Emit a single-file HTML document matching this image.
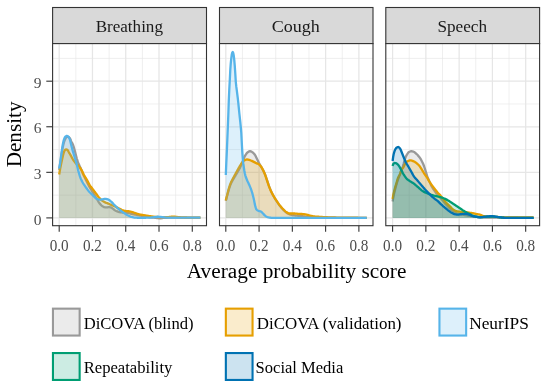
<!DOCTYPE html>
<html lang="en"><head><meta charset="utf-8"><title>Density of average probability score</title>
<style>
html,body{margin:0;padding:0;background:#fff}
body{width:550px;height:390px;overflow:hidden}
svg{display:block}
text{font-family:"Liberation Serif","DejaVu Serif",serif}
.tk text{font-size:16px;fill:#4D4D4D}
.st{font-size:16px;fill:#1A1A1A}
.ti{font-size:20px;fill:#000}
.lg{font-size:16px;fill:#000}
</style></head><body>
<svg width="550" height="390" viewBox="0 0 550 390">
<rect width="550" height="390" fill="#fff"/>
<rect x="52.6" y="7.5" width="153.9" height="36.1" fill="#D9D9D9" stroke="#333" stroke-width="1.1"/>
<rect x="52.6" y="43.6" width="153.9" height="182.1" fill="#fff"/>
<g stroke="#E6E6E6"><line x1="59.2" x2="59.2" y1="43.6" y2="225.7" stroke-width="1.25"/><line x1="75.84" x2="75.84" y1="43.6" y2="225.7" stroke-width="0.65"/><line x1="92.47" x2="92.47" y1="43.6" y2="225.7" stroke-width="1.25"/><line x1="109.11" x2="109.11" y1="43.6" y2="225.7" stroke-width="0.65"/><line x1="125.74" x2="125.74" y1="43.6" y2="225.7" stroke-width="1.25"/><line x1="142.38" x2="142.38" y1="43.6" y2="225.7" stroke-width="0.65"/><line x1="159.01" x2="159.01" y1="43.6" y2="225.7" stroke-width="1.25"/><line x1="175.65" x2="175.65" y1="43.6" y2="225.7" stroke-width="0.65"/><line x1="192.28" x2="192.28" y1="43.6" y2="225.7" stroke-width="1.25"/><line x1="52.6" x2="206.5" y1="217.9" y2="217.9" stroke-width="1.25"/><line x1="52.6" x2="206.5" y1="195.12" y2="195.12" stroke-width="0.65"/><line x1="52.6" x2="206.5" y1="172.33" y2="172.33" stroke-width="1.25"/><line x1="52.6" x2="206.5" y1="149.55" y2="149.55" stroke-width="0.65"/><line x1="52.6" x2="206.5" y1="126.76" y2="126.76" stroke-width="1.25"/><line x1="52.6" x2="206.5" y1="103.98" y2="103.98" stroke-width="0.65"/><line x1="52.6" x2="206.5" y1="81.19" y2="81.19" stroke-width="1.25"/><line x1="52.6" x2="206.5" y1="58.41" y2="58.41" stroke-width="0.65"/></g>
<path d="M59.2 170 L59.7 166.55 L60.2 163.19 L60.7 159.91 L61.2 156.72 L61.7 153.42 L62.2 150.22 L62.7 147.4 L63.2 145.17 L63.7 143.23 L64.2 141.54 L64.7 140.15 L65.2 139.11 L65.7 138.2 L66.2 137.46 L66.7 137.03 L67.2 136.91 L67.7 136.83 L68.2 136.8 L68.7 136.98 L69.2 137.44 L69.7 138 L70.2 138.8 L70.7 139.9 L71.2 141.11 L71.7 142.2 L72.2 143.14 L72.7 144.1 L73.2 145.26 L73.7 146.78 L74.2 148.55 L74.7 150.36 L75.2 152.26 L75.7 154.22 L76.2 156.19 L76.7 158.22 L77.2 160 L77.7 161.43 L78.2 162.68 L78.7 163.85 L79.2 165 L79.7 166.13 L80.2 167.22 L80.7 168.31 L81.2 169.48 L81.7 170.75 L82.2 172.05 L82.7 173.3 L83.2 174.44 L83.7 175.5 L84.2 176.5 L84.7 177.48 L85.2 178.44 L85.7 179.41 L86.2 180.4 L86.7 181.42 L87.2 182.45 L87.7 183.48 L88.2 184.48 L88.7 185.44 L89.2 186.36 L89.7 187.23 L90.2 188.07 L90.7 188.88 L91.2 189.69 L91.7 190.5 L92.2 191.33 L92.7 192.17 L93.2 193.01 L93.7 193.85 L94.2 194.68 L94.7 195.51 L95.2 196.32 L95.7 197.13 L96.2 197.92 L96.7 198.71 L97.2 199.51 L97.7 200.33 L98.2 201.2 L98.7 202.04 L99.2 202.79 L99.7 203.48 L100.2 204.13 L100.7 204.7 L101.2 205.18 L101.7 205.62 L102.2 206 L102.7 206.33 L103.2 206.61 L103.7 206.87 L104.2 207.09 L104.7 207.25 L105.2 207.32 L105.7 207.35 L106.2 207.38 L106.7 207.4 L107.2 207.39 L107.7 207.32 L108.2 207.21 L108.7 207.12 L109.2 207.11 L109.7 207.16 L110.2 207.27 L110.7 207.41 L111.2 207.57 L111.7 207.85 L112.2 208.2 L112.7 208.58 L113.2 208.94 L113.7 209.33 L114.2 209.73 L114.7 210.11 L115.2 210.42 L115.7 210.69 L116.2 210.94 L116.7 211.17 L117.2 211.38 L117.7 211.58 L118.2 211.77 L118.7 211.92 L119.2 212.05 L119.7 212.15 L120.2 212.25 L120.7 212.33 L121.2 212.4 L121.7 212.47 L122.2 212.52 L122.7 212.56 L123.2 212.6 L123.7 212.64 L124.2 212.67 L124.7 212.7 L125.2 212.73 L125.7 212.77 L126.2 212.82 L126.7 212.87 L127.2 212.93 L127.7 213 L128.2 213.07 L128.7 213.15 L129.2 213.24 L129.7 213.35 L130.2 213.49 L130.7 213.64 L131.2 213.79 L131.7 213.93 L132.2 214.05 L132.7 214.15 L133.2 214.25 L133.7 214.35 L134.2 214.45 L134.7 214.54 L135.2 214.64 L135.7 214.74 L136.2 214.84 L136.7 214.94 L137.2 215.03 L137.7 215.13 L138.2 215.23 L138.7 215.33 L139.2 215.42 L139.7 215.52 L140.2 215.61 L140.7 215.71 L141.2 215.8 L141.7 215.9 L142.2 215.99 L142.7 216.08 L143.2 216.18 L143.7 216.27 L144.2 216.36 L144.7 216.44 L145.2 216.53 L145.7 216.62 L146.2 216.7 L146.7 216.79 L147.2 216.88 L147.7 216.96 L148.2 217.04 L148.7 217.12 L149.2 217.19 L149.7 217.26 L150.2 217.32 L150.7 217.38 L151.2 217.44 L151.7 217.49 L152.2 217.54 L152.7 217.58 L153.2 217.63 L153.7 217.68 L154.2 217.72 L154.7 217.77 L155.2 217.82 L155.7 217.88 L156.2 217.94 L156.7 218.01 L157.2 218.07 L157.7 218.14 L158.2 218.19 L158.7 218.24 L159.2 218.28 L159.7 218.3 L160.2 218.3 L160.7 218.28 L161.2 218.24 L161.7 218.18 L162.2 218.11 L162.7 218.04 L163.2 217.97 L163.7 217.91 L164.2 217.85 L164.7 217.81 L165.2 217.79 L165.7 217.78 L166.2 217.76 L166.7 217.74 L167.2 217.73 L167.7 217.71 L168.2 217.7 L168.7 217.69 L169.2 217.67 L169.7 217.66 L170.2 217.65 L170.7 217.64 L171.2 217.63 L171.7 217.62 L172.2 217.62 L172.7 217.61 L173.2 217.61 L173.7 217.6 L174.2 217.6 L174.7 217.6 L175.2 217.6 L175.7 217.6 L176.2 217.6 L176.7 217.6 L177.2 217.6 L177.7 217.6 L178.2 217.6 L178.7 217.6 L179.2 217.6 L179.7 217.6 L180.2 217.6 L180.7 217.6 L181.2 217.6 L181.7 217.6 L182.2 217.6 L182.7 217.6 L183.2 217.6 L183.7 217.6 L184.2 217.6 L184.7 217.61 L185.2 217.61 L185.7 217.61 L186.2 217.61 L186.7 217.61 L187.2 217.61 L187.7 217.61 L188.2 217.61 L188.7 217.62 L189.2 217.62 L189.7 217.62 L190.2 217.62 L190.7 217.62 L191.2 217.63 L191.7 217.63 L192.2 217.63 L192.7 217.63 L193.2 217.64 L193.7 217.64 L194.2 217.64 L194.7 217.65 L195.2 217.65 L195.7 217.65 L196.2 217.66 L196.7 217.66 L197.2 217.67 L197.7 217.67 L198.2 217.68 L198.7 217.68 L199.2 217.69 L199.7 217.69 L200.2 217.7 L200.4 217.7 L200.4 217.9 L59.2 217.9 Z" fill="#999999" fill-opacity="0.2" stroke="none"/>
<path d="M59.2 170 L59.7 166.55 L60.2 163.19 L60.7 159.91 L61.2 156.72 L61.7 153.42 L62.2 150.22 L62.7 147.4 L63.2 145.17 L63.7 143.23 L64.2 141.54 L64.7 140.15 L65.2 139.11 L65.7 138.2 L66.2 137.46 L66.7 137.03 L67.2 136.91 L67.7 136.83 L68.2 136.8 L68.7 136.98 L69.2 137.44 L69.7 138 L70.2 138.8 L70.7 139.9 L71.2 141.11 L71.7 142.2 L72.2 143.14 L72.7 144.1 L73.2 145.26 L73.7 146.78 L74.2 148.55 L74.7 150.36 L75.2 152.26 L75.7 154.22 L76.2 156.19 L76.7 158.22 L77.2 160 L77.7 161.43 L78.2 162.68 L78.7 163.85 L79.2 165 L79.7 166.13 L80.2 167.22 L80.7 168.31 L81.2 169.48 L81.7 170.75 L82.2 172.05 L82.7 173.3 L83.2 174.44 L83.7 175.5 L84.2 176.5 L84.7 177.48 L85.2 178.44 L85.7 179.41 L86.2 180.4 L86.7 181.42 L87.2 182.45 L87.7 183.48 L88.2 184.48 L88.7 185.44 L89.2 186.36 L89.7 187.23 L90.2 188.07 L90.7 188.88 L91.2 189.69 L91.7 190.5 L92.2 191.33 L92.7 192.17 L93.2 193.01 L93.7 193.85 L94.2 194.68 L94.7 195.51 L95.2 196.32 L95.7 197.13 L96.2 197.92 L96.7 198.71 L97.2 199.51 L97.7 200.33 L98.2 201.2 L98.7 202.04 L99.2 202.79 L99.7 203.48 L100.2 204.13 L100.7 204.7 L101.2 205.18 L101.7 205.62 L102.2 206 L102.7 206.33 L103.2 206.61 L103.7 206.87 L104.2 207.09 L104.7 207.25 L105.2 207.32 L105.7 207.35 L106.2 207.38 L106.7 207.4 L107.2 207.39 L107.7 207.32 L108.2 207.21 L108.7 207.12 L109.2 207.11 L109.7 207.16 L110.2 207.27 L110.7 207.41 L111.2 207.57 L111.7 207.85 L112.2 208.2 L112.7 208.58 L113.2 208.94 L113.7 209.33 L114.2 209.73 L114.7 210.11 L115.2 210.42 L115.7 210.69 L116.2 210.94 L116.7 211.17 L117.2 211.38 L117.7 211.58 L118.2 211.77 L118.7 211.92 L119.2 212.05 L119.7 212.15 L120.2 212.25 L120.7 212.33 L121.2 212.4 L121.7 212.47 L122.2 212.52 L122.7 212.56 L123.2 212.6 L123.7 212.64 L124.2 212.67 L124.7 212.7 L125.2 212.73 L125.7 212.77 L126.2 212.82 L126.7 212.87 L127.2 212.93 L127.7 213 L128.2 213.07 L128.7 213.15 L129.2 213.24 L129.7 213.35 L130.2 213.49 L130.7 213.64 L131.2 213.79 L131.7 213.93 L132.2 214.05 L132.7 214.15 L133.2 214.25 L133.7 214.35 L134.2 214.45 L134.7 214.54 L135.2 214.64 L135.7 214.74 L136.2 214.84 L136.7 214.94 L137.2 215.03 L137.7 215.13 L138.2 215.23 L138.7 215.33 L139.2 215.42 L139.7 215.52 L140.2 215.61 L140.7 215.71 L141.2 215.8 L141.7 215.9 L142.2 215.99 L142.7 216.08 L143.2 216.18 L143.7 216.27 L144.2 216.36 L144.7 216.44 L145.2 216.53 L145.7 216.62 L146.2 216.7 L146.7 216.79 L147.2 216.88 L147.7 216.96 L148.2 217.04 L148.7 217.12 L149.2 217.19 L149.7 217.26 L150.2 217.32 L150.7 217.38 L151.2 217.44 L151.7 217.49 L152.2 217.54 L152.7 217.58 L153.2 217.63 L153.7 217.68 L154.2 217.72 L154.7 217.77 L155.2 217.82 L155.7 217.88 L156.2 217.94 L156.7 218.01 L157.2 218.07 L157.7 218.14 L158.2 218.19 L158.7 218.24 L159.2 218.28 L159.7 218.3 L160.2 218.3 L160.7 218.28 L161.2 218.24 L161.7 218.18 L162.2 218.11 L162.7 218.04 L163.2 217.97 L163.7 217.91 L164.2 217.85 L164.7 217.81 L165.2 217.79 L165.7 217.78 L166.2 217.76 L166.7 217.74 L167.2 217.73 L167.7 217.71 L168.2 217.7 L168.7 217.69 L169.2 217.67 L169.7 217.66 L170.2 217.65 L170.7 217.64 L171.2 217.63 L171.7 217.62 L172.2 217.62 L172.7 217.61 L173.2 217.61 L173.7 217.6 L174.2 217.6 L174.7 217.6 L175.2 217.6 L175.7 217.6 L176.2 217.6 L176.7 217.6 L177.2 217.6 L177.7 217.6 L178.2 217.6 L178.7 217.6 L179.2 217.6 L179.7 217.6 L180.2 217.6 L180.7 217.6 L181.2 217.6 L181.7 217.6 L182.2 217.6 L182.7 217.6 L183.2 217.6 L183.7 217.6 L184.2 217.6 L184.7 217.61 L185.2 217.61 L185.7 217.61 L186.2 217.61 L186.7 217.61 L187.2 217.61 L187.7 217.61 L188.2 217.61 L188.7 217.62 L189.2 217.62 L189.7 217.62 L190.2 217.62 L190.7 217.62 L191.2 217.63 L191.7 217.63 L192.2 217.63 L192.7 217.63 L193.2 217.64 L193.7 217.64 L194.2 217.64 L194.7 217.65 L195.2 217.65 L195.7 217.65 L196.2 217.66 L196.7 217.66 L197.2 217.67 L197.7 217.67 L198.2 217.68 L198.7 217.68 L199.2 217.69 L199.7 217.69 L200.2 217.7 L200.4 217.7" fill="none" stroke="#999999" stroke-width="2.3" stroke-linejoin="round" stroke-linecap="butt"/>
<path d="M59.2 174.5 L59.7 171.45 L60.2 168.6 L60.7 165.98 L61.2 163.59 L61.7 161.33 L62.2 159.1 L62.7 156.78 L63.2 154.58 L63.7 152.79 L64.2 151.44 L64.7 150.37 L65.2 149.84 L65.7 149.53 L66.2 149.4 L66.7 149.51 L67.2 149.79 L67.7 150.19 L68.2 150.98 L68.7 151.95 L69.2 152.83 L69.7 153.66 L70.2 154.49 L70.7 155.35 L71.2 156.27 L71.7 157.21 L72.2 158.14 L72.7 159.02 L73.2 159.8 L73.7 160.54 L74.2 161.24 L74.7 161.91 L75.2 162.55 L75.7 163.15 L76.2 163.72 L76.7 164.24 L77.2 164.71 L77.7 165.17 L78.2 165.65 L78.7 166.16 L79.2 166.74 L79.7 167.36 L80.2 168.03 L80.7 168.75 L81.2 169.52 L81.7 170.34 L82.2 171.3 L82.7 172.34 L83.2 173.4 L83.7 174.43 L84.2 175.36 L84.7 176.22 L85.2 177.04 L85.7 177.85 L86.2 178.66 L86.7 179.48 L87.2 180.36 L87.7 181.28 L88.2 182.25 L88.7 183.21 L89.2 184.14 L89.7 185.02 L90.2 185.8 L90.7 186.52 L91.2 187.19 L91.7 187.83 L92.2 188.47 L92.7 189.11 L93.2 189.77 L93.7 190.43 L94.2 191.1 L94.7 191.77 L95.2 192.43 L95.7 193.1 L96.2 193.77 L96.7 194.46 L97.2 195.15 L97.7 195.85 L98.2 196.52 L98.7 197.15 L99.2 197.73 L99.7 198.29 L100.2 198.83 L100.7 199.35 L101.2 199.83 L101.7 200.26 L102.2 200.65 L102.7 201 L103.2 201.32 L103.7 201.62 L104.2 201.9 L104.7 202.15 L105.2 202.39 L105.7 202.61 L106.2 202.81 L106.7 203 L107.2 203.19 L107.7 203.38 L108.2 203.58 L108.7 203.8 L109.2 204.02 L109.7 204.24 L110.2 204.46 L110.7 204.67 L111.2 204.88 L111.7 205.08 L112.2 205.27 L112.7 205.47 L113.2 205.66 L113.7 205.87 L114.2 206.09 L114.7 206.33 L115.2 206.58 L115.7 206.83 L116.2 207.09 L116.7 207.35 L117.2 207.6 L117.7 207.85 L118.2 208.11 L118.7 208.36 L119.2 208.62 L119.7 208.86 L120.2 209.09 L120.7 209.33 L121.2 209.57 L121.7 209.8 L122.2 210.01 L122.7 210.2 L123.2 210.36 L123.7 210.5 L124.2 210.64 L124.7 210.76 L125.2 210.86 L125.7 210.95 L126.2 211.03 L126.7 211.08 L127.2 211.13 L127.7 211.17 L128.2 211.21 L128.7 211.26 L129.2 211.33 L129.7 211.42 L130.2 211.53 L130.7 211.65 L131.2 211.78 L131.7 211.92 L132.2 212.06 L132.7 212.21 L133.2 212.37 L133.7 212.55 L134.2 212.72 L134.7 212.9 L135.2 213.07 L135.7 213.24 L136.2 213.42 L136.7 213.59 L137.2 213.76 L137.7 213.91 L138.2 214.05 L138.7 214.19 L139.2 214.31 L139.7 214.43 L140.2 214.54 L140.7 214.64 L141.2 214.74 L141.7 214.83 L142.2 214.91 L142.7 214.99 L143.2 215.07 L143.7 215.14 L144.2 215.22 L144.7 215.3 L145.2 215.38 L145.7 215.46 L146.2 215.54 L146.7 215.62 L147.2 215.7 L147.7 215.79 L148.2 215.87 L148.7 215.95 L149.2 216.03 L149.7 216.1 L150.2 216.18 L150.7 216.26 L151.2 216.34 L151.7 216.42 L152.2 216.5 L152.7 216.58 L153.2 216.64 L153.7 216.7 L154.2 216.74 L154.7 216.78 L155.2 216.83 L155.7 216.87 L156.2 216.9 L156.7 216.94 L157.2 216.97 L157.7 217 L158.2 217.03 L158.7 217.05 L159.2 217.06 L159.7 217.07 L160.2 217.07 L160.7 217.07 L161.2 217.07 L161.7 217.07 L162.2 217.07 L162.7 217.07 L163.2 217.07 L163.7 217.07 L164.2 217.07 L164.7 217.07 L165.2 217.07 L165.7 217.07 L166.2 217.07 L166.7 217.07 L167.2 217.07 L167.7 217.07 L168.2 217.07 L168.7 217.05 L169.2 217 L169.7 216.95 L170.2 216.88 L170.7 216.81 L171.2 216.75 L171.7 216.69 L172.2 216.64 L172.7 216.61 L173.2 216.61 L173.7 216.63 L174.2 216.66 L174.7 216.7 L175.2 216.76 L175.7 216.82 L176.2 216.88 L176.7 216.94 L177.2 217 L177.7 217.05 L178.2 217.09 L178.7 217.12 L179.2 217.16 L179.7 217.2 L180.2 217.24 L180.7 217.28 L181.2 217.32 L181.7 217.35 L182.2 217.39 L182.7 217.42 L183.2 217.44 L183.7 217.46 L184.2 217.48 L184.7 217.5 L185.2 217.5 L185.7 217.51 L186.2 217.52 L186.7 217.52 L187.2 217.53 L187.7 217.53 L188.2 217.54 L188.7 217.54 L189.2 217.55 L189.7 217.55 L190.2 217.56 L190.7 217.56 L191.2 217.56 L191.7 217.57 L192.2 217.57 L192.7 217.58 L193.2 217.58 L193.7 217.58 L194.2 217.58 L194.7 217.59 L195.2 217.59 L195.7 217.59 L196.2 217.59 L196.7 217.59 L197.2 217.6 L197.7 217.6 L198.2 217.6 L198.7 217.6 L199.2 217.6 L199.7 217.6 L200.2 217.6 L200.4 217.6 L200.4 217.9 L59.2 217.9 Z" fill="#E69F00" fill-opacity="0.2" stroke="none"/>
<path d="M59.2 174.5 L59.7 171.45 L60.2 168.6 L60.7 165.98 L61.2 163.59 L61.7 161.33 L62.2 159.1 L62.7 156.78 L63.2 154.58 L63.7 152.79 L64.2 151.44 L64.7 150.37 L65.2 149.84 L65.7 149.53 L66.2 149.4 L66.7 149.51 L67.2 149.79 L67.7 150.19 L68.2 150.98 L68.7 151.95 L69.2 152.83 L69.7 153.66 L70.2 154.49 L70.7 155.35 L71.2 156.27 L71.7 157.21 L72.2 158.14 L72.7 159.02 L73.2 159.8 L73.7 160.54 L74.2 161.24 L74.7 161.91 L75.2 162.55 L75.7 163.15 L76.2 163.72 L76.7 164.24 L77.2 164.71 L77.7 165.17 L78.2 165.65 L78.7 166.16 L79.2 166.74 L79.7 167.36 L80.2 168.03 L80.7 168.75 L81.2 169.52 L81.7 170.34 L82.2 171.3 L82.7 172.34 L83.2 173.4 L83.7 174.43 L84.2 175.36 L84.7 176.22 L85.2 177.04 L85.7 177.85 L86.2 178.66 L86.7 179.48 L87.2 180.36 L87.7 181.28 L88.2 182.25 L88.7 183.21 L89.2 184.14 L89.7 185.02 L90.2 185.8 L90.7 186.52 L91.2 187.19 L91.7 187.83 L92.2 188.47 L92.7 189.11 L93.2 189.77 L93.7 190.43 L94.2 191.1 L94.7 191.77 L95.2 192.43 L95.7 193.1 L96.2 193.77 L96.7 194.46 L97.2 195.15 L97.7 195.85 L98.2 196.52 L98.7 197.15 L99.2 197.73 L99.7 198.29 L100.2 198.83 L100.7 199.35 L101.2 199.83 L101.7 200.26 L102.2 200.65 L102.7 201 L103.2 201.32 L103.7 201.62 L104.2 201.9 L104.7 202.15 L105.2 202.39 L105.7 202.61 L106.2 202.81 L106.7 203 L107.2 203.19 L107.7 203.38 L108.2 203.58 L108.7 203.8 L109.2 204.02 L109.7 204.24 L110.2 204.46 L110.7 204.67 L111.2 204.88 L111.7 205.08 L112.2 205.27 L112.7 205.47 L113.2 205.66 L113.7 205.87 L114.2 206.09 L114.7 206.33 L115.2 206.58 L115.7 206.83 L116.2 207.09 L116.7 207.35 L117.2 207.6 L117.7 207.85 L118.2 208.11 L118.7 208.36 L119.2 208.62 L119.7 208.86 L120.2 209.09 L120.7 209.33 L121.2 209.57 L121.7 209.8 L122.2 210.01 L122.7 210.2 L123.2 210.36 L123.7 210.5 L124.2 210.64 L124.7 210.76 L125.2 210.86 L125.7 210.95 L126.2 211.03 L126.7 211.08 L127.2 211.13 L127.7 211.17 L128.2 211.21 L128.7 211.26 L129.2 211.33 L129.7 211.42 L130.2 211.53 L130.7 211.65 L131.2 211.78 L131.7 211.92 L132.2 212.06 L132.7 212.21 L133.2 212.37 L133.7 212.55 L134.2 212.72 L134.7 212.9 L135.2 213.07 L135.7 213.24 L136.2 213.42 L136.7 213.59 L137.2 213.76 L137.7 213.91 L138.2 214.05 L138.7 214.19 L139.2 214.31 L139.7 214.43 L140.2 214.54 L140.7 214.64 L141.2 214.74 L141.7 214.83 L142.2 214.91 L142.7 214.99 L143.2 215.07 L143.7 215.14 L144.2 215.22 L144.7 215.3 L145.2 215.38 L145.7 215.46 L146.2 215.54 L146.7 215.62 L147.2 215.7 L147.7 215.79 L148.2 215.87 L148.7 215.95 L149.2 216.03 L149.7 216.1 L150.2 216.18 L150.7 216.26 L151.2 216.34 L151.7 216.42 L152.2 216.5 L152.7 216.58 L153.2 216.64 L153.7 216.7 L154.2 216.74 L154.7 216.78 L155.2 216.83 L155.7 216.87 L156.2 216.9 L156.7 216.94 L157.2 216.97 L157.7 217 L158.2 217.03 L158.7 217.05 L159.2 217.06 L159.7 217.07 L160.2 217.07 L160.7 217.07 L161.2 217.07 L161.7 217.07 L162.2 217.07 L162.7 217.07 L163.2 217.07 L163.7 217.07 L164.2 217.07 L164.7 217.07 L165.2 217.07 L165.7 217.07 L166.2 217.07 L166.7 217.07 L167.2 217.07 L167.7 217.07 L168.2 217.07 L168.7 217.05 L169.2 217 L169.7 216.95 L170.2 216.88 L170.7 216.81 L171.2 216.75 L171.7 216.69 L172.2 216.64 L172.7 216.61 L173.2 216.61 L173.7 216.63 L174.2 216.66 L174.7 216.7 L175.2 216.76 L175.7 216.82 L176.2 216.88 L176.7 216.94 L177.2 217 L177.7 217.05 L178.2 217.09 L178.7 217.12 L179.2 217.16 L179.7 217.2 L180.2 217.24 L180.7 217.28 L181.2 217.32 L181.7 217.35 L182.2 217.39 L182.7 217.42 L183.2 217.44 L183.7 217.46 L184.2 217.48 L184.7 217.5 L185.2 217.5 L185.7 217.51 L186.2 217.52 L186.7 217.52 L187.2 217.53 L187.7 217.53 L188.2 217.54 L188.7 217.54 L189.2 217.55 L189.7 217.55 L190.2 217.56 L190.7 217.56 L191.2 217.56 L191.7 217.57 L192.2 217.57 L192.7 217.58 L193.2 217.58 L193.7 217.58 L194.2 217.58 L194.7 217.59 L195.2 217.59 L195.7 217.59 L196.2 217.59 L196.7 217.59 L197.2 217.6 L197.7 217.6 L198.2 217.6 L198.7 217.6 L199.2 217.6 L199.7 217.6 L200.2 217.6 L200.4 217.6" fill="none" stroke="#E69F00" stroke-width="2.3" stroke-linejoin="round" stroke-linecap="butt"/>
<path d="M59.2 168.5 L59.7 165.74 L60.2 162.65 L60.7 159.12 L61.2 155.23 L61.7 151.58 L62.2 148.07 L62.7 145 L63.2 142.4 L63.7 140.32 L64.2 138.87 L64.7 137.69 L65.2 136.9 L65.7 136.47 L66.2 136.14 L66.7 135.94 L67.2 135.92 L67.7 136.17 L68.2 136.59 L68.7 137.12 L69.2 137.97 L69.7 139.17 L70.2 140.66 L70.7 142.79 L71.2 145 L71.7 146.98 L72.2 148.9 L72.7 150.7 L73.2 152.38 L73.7 154.01 L74.2 155.66 L74.7 157.31 L75.2 158.97 L75.7 160.7 L76.2 162.5 L76.7 164.36 L77.2 166.28 L77.7 168.33 L78.2 170.37 L78.7 172.22 L79.2 174 L79.7 175.68 L80.2 177.2 L80.7 178.49 L81.2 179.62 L81.7 180.65 L82.2 181.59 L82.7 182.48 L83.2 183.34 L83.7 184.15 L84.2 184.92 L84.7 185.66 L85.2 186.37 L85.7 187.08 L86.2 187.78 L86.7 188.49 L87.2 189.19 L87.7 189.87 L88.2 190.53 L88.7 191.15 L89.2 191.72 L89.7 192.26 L90.2 192.76 L90.7 193.25 L91.2 193.72 L91.7 194.2 L92.2 194.7 L92.7 195.22 L93.2 195.76 L93.7 196.28 L94.2 196.78 L94.7 197.25 L95.2 197.66 L95.7 198.08 L96.2 198.48 L96.7 198.83 L97.2 199.1 L97.7 199.25 L98.2 199.37 L98.7 199.47 L99.2 199.55 L99.7 199.59 L100.2 199.6 L100.7 199.56 L101.2 199.51 L101.7 199.44 L102.2 199.37 L102.7 199.28 L103.2 199.17 L103.7 199.06 L104.2 198.97 L104.7 198.91 L105.2 198.9 L105.7 198.94 L106.2 199 L106.7 199.09 L107.2 199.2 L107.7 199.32 L108.2 199.46 L108.7 199.7 L109.2 200.02 L109.7 200.4 L110.2 200.82 L110.7 201.25 L111.2 201.67 L111.7 202.13 L112.2 202.62 L112.7 203.14 L113.2 203.67 L113.7 204.2 L114.2 204.7 L114.7 205.21 L115.2 205.73 L115.7 206.24 L116.2 206.74 L116.7 207.22 L117.2 207.68 L117.7 208.12 L118.2 208.54 L118.7 208.96 L119.2 209.36 L119.7 209.76 L120.2 210.16 L120.7 210.56 L121.2 210.95 L121.7 211.34 L122.2 211.71 L122.7 212.08 L123.2 212.44 L123.7 212.79 L124.2 213.14 L124.7 213.48 L125.2 213.8 L125.7 214.12 L126.2 214.42 L126.7 214.71 L127.2 215 L127.7 215.27 L128.2 215.54 L128.7 215.78 L129.2 216.01 L129.7 216.23 L130.2 216.45 L130.7 216.65 L131.2 216.83 L131.7 216.99 L132.2 217.12 L132.7 217.23 L133.2 217.34 L133.7 217.44 L134.2 217.52 L134.7 217.57 L135.2 217.61 L135.7 217.65 L136.2 217.68 L136.7 217.7 L137.2 217.73 L137.7 217.75 L138.2 217.77 L138.7 217.78 L139.2 217.79 L139.7 217.8 L140.2 217.8 L140.7 217.8 L141.2 217.8 L141.7 217.79 L142.2 217.79 L142.7 217.78 L143.2 217.78 L143.7 217.77 L144.2 217.76 L144.7 217.75 L145.2 217.74 L145.7 217.73 L146.2 217.72 L146.7 217.7 L147.2 217.69 L147.7 217.68 L148.2 217.66 L148.7 217.65 L149.2 217.63 L149.7 217.61 L150.2 217.59 L150.7 217.56 L151.2 217.52 L151.7 217.47 L152.2 217.42 L152.7 217.36 L153.2 217.29 L153.7 217.23 L154.2 217.16 L154.7 217.1 L155.2 217.05 L155.7 216.98 L156.2 216.9 L156.7 216.83 L157.2 216.77 L157.7 216.73 L158.2 216.73 L158.7 216.74 L159.2 216.78 L159.7 216.82 L160.2 216.87 L160.7 216.93 L161.2 216.99 L161.7 217.04 L162.2 217.09 L162.7 217.15 L163.2 217.21 L163.7 217.28 L164.2 217.35 L164.7 217.41 L165.2 217.48 L165.7 217.54 L166.2 217.6 L166.7 217.64 L167.2 217.68 L167.7 217.7 L168.2 217.7 L168.7 217.7 L169.2 217.7 L169.7 217.69 L170.2 217.69 L170.7 217.69 L171.2 217.68 L171.7 217.68 L172.2 217.67 L172.7 217.67 L173.2 217.66 L173.7 217.65 L174.2 217.65 L174.7 217.64 L175.2 217.64 L175.7 217.63 L176.2 217.62 L176.7 217.62 L177.2 217.61 L177.7 217.61 L178.2 217.61 L178.7 217.6 L179.2 217.6 L179.7 217.6 L180.2 217.6 L180.7 217.6 L181.2 217.6 L181.7 217.6 L182.2 217.6 L182.7 217.6 L183.2 217.6 L183.7 217.6 L184.2 217.6 L184.7 217.6 L185.2 217.6 L185.7 217.6 L186.2 217.6 L186.7 217.6 L187.2 217.6 L187.7 217.6 L188.2 217.6 L188.7 217.6 L189.2 217.6 L189.7 217.6 L190.2 217.6 L190.7 217.6 L191.2 217.6 L191.7 217.6 L192.2 217.6 L192.7 217.6 L193.2 217.6 L193.7 217.6 L194.2 217.6 L194.7 217.6 L195.2 217.6 L195.7 217.6 L196.2 217.6 L196.7 217.6 L197.2 217.6 L197.7 217.6 L198.2 217.6 L198.7 217.6 L199.2 217.6 L199.7 217.6 L200.2 217.6 L200.4 217.6 L200.4 217.9 L59.2 217.9 Z" fill="#56B4E9" fill-opacity="0.2" stroke="none"/>
<path d="M59.2 168.5 L59.7 165.74 L60.2 162.65 L60.7 159.12 L61.2 155.23 L61.7 151.58 L62.2 148.07 L62.7 145 L63.2 142.4 L63.7 140.32 L64.2 138.87 L64.7 137.69 L65.2 136.9 L65.7 136.47 L66.2 136.14 L66.7 135.94 L67.2 135.92 L67.7 136.17 L68.2 136.59 L68.7 137.12 L69.2 137.97 L69.7 139.17 L70.2 140.66 L70.7 142.79 L71.2 145 L71.7 146.98 L72.2 148.9 L72.7 150.7 L73.2 152.38 L73.7 154.01 L74.2 155.66 L74.7 157.31 L75.2 158.97 L75.7 160.7 L76.2 162.5 L76.7 164.36 L77.2 166.28 L77.7 168.33 L78.2 170.37 L78.7 172.22 L79.2 174 L79.7 175.68 L80.2 177.2 L80.7 178.49 L81.2 179.62 L81.7 180.65 L82.2 181.59 L82.7 182.48 L83.2 183.34 L83.7 184.15 L84.2 184.92 L84.7 185.66 L85.2 186.37 L85.7 187.08 L86.2 187.78 L86.7 188.49 L87.2 189.19 L87.7 189.87 L88.2 190.53 L88.7 191.15 L89.2 191.72 L89.7 192.26 L90.2 192.76 L90.7 193.25 L91.2 193.72 L91.7 194.2 L92.2 194.7 L92.7 195.22 L93.2 195.76 L93.7 196.28 L94.2 196.78 L94.7 197.25 L95.2 197.66 L95.7 198.08 L96.2 198.48 L96.7 198.83 L97.2 199.1 L97.7 199.25 L98.2 199.37 L98.7 199.47 L99.2 199.55 L99.7 199.59 L100.2 199.6 L100.7 199.56 L101.2 199.51 L101.7 199.44 L102.2 199.37 L102.7 199.28 L103.2 199.17 L103.7 199.06 L104.2 198.97 L104.7 198.91 L105.2 198.9 L105.7 198.94 L106.2 199 L106.7 199.09 L107.2 199.2 L107.7 199.32 L108.2 199.46 L108.7 199.7 L109.2 200.02 L109.7 200.4 L110.2 200.82 L110.7 201.25 L111.2 201.67 L111.7 202.13 L112.2 202.62 L112.7 203.14 L113.2 203.67 L113.7 204.2 L114.2 204.7 L114.7 205.21 L115.2 205.73 L115.7 206.24 L116.2 206.74 L116.7 207.22 L117.2 207.68 L117.7 208.12 L118.2 208.54 L118.7 208.96 L119.2 209.36 L119.7 209.76 L120.2 210.16 L120.7 210.56 L121.2 210.95 L121.7 211.34 L122.2 211.71 L122.7 212.08 L123.2 212.44 L123.7 212.79 L124.2 213.14 L124.7 213.48 L125.2 213.8 L125.7 214.12 L126.2 214.42 L126.7 214.71 L127.2 215 L127.7 215.27 L128.2 215.54 L128.7 215.78 L129.2 216.01 L129.7 216.23 L130.2 216.45 L130.7 216.65 L131.2 216.83 L131.7 216.99 L132.2 217.12 L132.7 217.23 L133.2 217.34 L133.7 217.44 L134.2 217.52 L134.7 217.57 L135.2 217.61 L135.7 217.65 L136.2 217.68 L136.7 217.7 L137.2 217.73 L137.7 217.75 L138.2 217.77 L138.7 217.78 L139.2 217.79 L139.7 217.8 L140.2 217.8 L140.7 217.8 L141.2 217.8 L141.7 217.79 L142.2 217.79 L142.7 217.78 L143.2 217.78 L143.7 217.77 L144.2 217.76 L144.7 217.75 L145.2 217.74 L145.7 217.73 L146.2 217.72 L146.7 217.7 L147.2 217.69 L147.7 217.68 L148.2 217.66 L148.7 217.65 L149.2 217.63 L149.7 217.61 L150.2 217.59 L150.7 217.56 L151.2 217.52 L151.7 217.47 L152.2 217.42 L152.7 217.36 L153.2 217.29 L153.7 217.23 L154.2 217.16 L154.7 217.1 L155.2 217.05 L155.7 216.98 L156.2 216.9 L156.7 216.83 L157.2 216.77 L157.7 216.73 L158.2 216.73 L158.7 216.74 L159.2 216.78 L159.7 216.82 L160.2 216.87 L160.7 216.93 L161.2 216.99 L161.7 217.04 L162.2 217.09 L162.7 217.15 L163.2 217.21 L163.7 217.28 L164.2 217.35 L164.7 217.41 L165.2 217.48 L165.7 217.54 L166.2 217.6 L166.7 217.64 L167.2 217.68 L167.7 217.7 L168.2 217.7 L168.7 217.7 L169.2 217.7 L169.7 217.69 L170.2 217.69 L170.7 217.69 L171.2 217.68 L171.7 217.68 L172.2 217.67 L172.7 217.67 L173.2 217.66 L173.7 217.65 L174.2 217.65 L174.7 217.64 L175.2 217.64 L175.7 217.63 L176.2 217.62 L176.7 217.62 L177.2 217.61 L177.7 217.61 L178.2 217.61 L178.7 217.6 L179.2 217.6 L179.7 217.6 L180.2 217.6 L180.7 217.6 L181.2 217.6 L181.7 217.6 L182.2 217.6 L182.7 217.6 L183.2 217.6 L183.7 217.6 L184.2 217.6 L184.7 217.6 L185.2 217.6 L185.7 217.6 L186.2 217.6 L186.7 217.6 L187.2 217.6 L187.7 217.6 L188.2 217.6 L188.7 217.6 L189.2 217.6 L189.7 217.6 L190.2 217.6 L190.7 217.6 L191.2 217.6 L191.7 217.6 L192.2 217.6 L192.7 217.6 L193.2 217.6 L193.7 217.6 L194.2 217.6 L194.7 217.6 L195.2 217.6 L195.7 217.6 L196.2 217.6 L196.7 217.6 L197.2 217.6 L197.7 217.6 L198.2 217.6 L198.7 217.6 L199.2 217.6 L199.7 217.6 L200.2 217.6 L200.4 217.6" fill="none" stroke="#56B4E9" stroke-width="2.3" stroke-linejoin="round" stroke-linecap="butt"/>
<rect x="52.6" y="43.6" width="153.9" height="182.1" fill="none" stroke="#333" stroke-width="1.1"/>
<g stroke="#333" stroke-width="1.1"><line x1="59.2" x2="59.2" y1="225.7" y2="231.7"/><line x1="92.47" x2="92.47" y1="225.7" y2="231.7"/><line x1="125.74" x2="125.74" y1="225.7" y2="231.7"/><line x1="159.01" x2="159.01" y1="225.7" y2="231.7"/><line x1="192.28" x2="192.28" y1="225.7" y2="231.7"/></g>
<g class="tk"><text x="59.2" y="250.7" text-anchor="middle" textLength="19" lengthAdjust="spacingAndGlyphs">0.0</text><text x="92.47" y="250.7" text-anchor="middle" textLength="19" lengthAdjust="spacingAndGlyphs">0.2</text><text x="125.74" y="250.7" text-anchor="middle" textLength="19" lengthAdjust="spacingAndGlyphs">0.4</text><text x="159.01" y="250.7" text-anchor="middle" textLength="19" lengthAdjust="spacingAndGlyphs">0.6</text><text x="192.28" y="250.7" text-anchor="middle" textLength="19" lengthAdjust="spacingAndGlyphs">0.8</text></g>
<rect x="219.5" y="7.5" width="153.5" height="36.1" fill="#D9D9D9" stroke="#333" stroke-width="1.1"/>
<rect x="219.5" y="43.6" width="153.5" height="182.1" fill="#fff"/>
<g stroke="#E6E6E6"><line x1="225.8" x2="225.8" y1="43.6" y2="225.7" stroke-width="1.25"/><line x1="242.44" x2="242.44" y1="43.6" y2="225.7" stroke-width="0.65"/><line x1="259.07" x2="259.07" y1="43.6" y2="225.7" stroke-width="1.25"/><line x1="275.71" x2="275.71" y1="43.6" y2="225.7" stroke-width="0.65"/><line x1="292.34" x2="292.34" y1="43.6" y2="225.7" stroke-width="1.25"/><line x1="308.98" x2="308.98" y1="43.6" y2="225.7" stroke-width="0.65"/><line x1="325.61" x2="325.61" y1="43.6" y2="225.7" stroke-width="1.25"/><line x1="342.25" x2="342.25" y1="43.6" y2="225.7" stroke-width="0.65"/><line x1="358.88" x2="358.88" y1="43.6" y2="225.7" stroke-width="1.25"/><line x1="219.5" x2="373" y1="217.9" y2="217.9" stroke-width="1.25"/><line x1="219.5" x2="373" y1="195.12" y2="195.12" stroke-width="0.65"/><line x1="219.5" x2="373" y1="172.33" y2="172.33" stroke-width="1.25"/><line x1="219.5" x2="373" y1="149.55" y2="149.55" stroke-width="0.65"/><line x1="219.5" x2="373" y1="126.76" y2="126.76" stroke-width="1.25"/><line x1="219.5" x2="373" y1="103.98" y2="103.98" stroke-width="0.65"/><line x1="219.5" x2="373" y1="81.19" y2="81.19" stroke-width="1.25"/><line x1="219.5" x2="373" y1="58.41" y2="58.41" stroke-width="0.65"/></g>
<path d="M225.8 200.8 L226.3 198.93 L226.8 197.07 L227.3 195.23 L227.8 193.38 L228.3 191.49 L228.8 189.65 L229.3 188 L229.8 186.53 L230.3 185.17 L230.8 183.93 L231.3 182.8 L231.8 181.78 L232.3 180.85 L232.8 179.98 L233.3 179.15 L233.8 178.33 L234.3 177.51 L234.8 176.66 L235.3 175.82 L235.8 175 L236.3 174.19 L236.8 173.37 L237.3 172.53 L237.8 171.68 L238.3 170.8 L238.8 169.92 L239.3 169.02 L239.8 168.09 L240.3 167.12 L240.8 166.07 L241.3 164.95 L241.8 163.75 L242.3 162.5 L242.8 161.2 L243.3 159.81 L243.8 158.5 L244.3 157.32 L244.8 156.24 L245.3 155.34 L245.8 154.54 L246.3 153.81 L246.8 153.17 L247.3 152.66 L247.8 152.27 L248.3 151.91 L248.8 151.59 L249.3 151.34 L249.8 151.21 L250.3 151.22 L250.8 151.36 L251.3 151.58 L251.8 151.86 L252.3 152.17 L252.8 152.51 L253.3 152.94 L253.8 153.46 L254.3 154.06 L254.8 154.72 L255.3 155.46 L255.8 156.38 L256.3 157.42 L256.8 158.52 L257.3 159.59 L257.8 160.61 L258.3 161.63 L258.8 162.64 L259.3 163.62 L259.8 164.55 L260.3 165.43 L260.8 166.29 L261.3 167.15 L261.8 168.02 L262.3 168.86 L262.8 169.71 L263.3 170.61 L263.8 171.6 L264.3 172.66 L264.8 173.79 L265.3 174.99 L265.8 176.3 L266.3 177.76 L266.8 179.28 L267.3 180.8 L267.8 182.36 L268.3 183.93 L268.8 185.44 L269.3 186.82 L269.8 188.12 L270.3 189.37 L270.8 190.55 L271.3 191.66 L271.8 192.72 L272.3 193.73 L272.8 194.7 L273.3 195.63 L273.8 196.54 L274.3 197.42 L274.8 198.27 L275.3 199.1 L275.8 199.9 L276.3 200.69 L276.8 201.46 L277.3 202.22 L277.8 202.97 L278.3 203.69 L278.8 204.4 L279.3 205.09 L279.8 205.75 L280.3 206.38 L280.8 206.99 L281.3 207.6 L281.8 208.19 L282.3 208.75 L282.8 209.3 L283.3 209.82 L283.8 210.31 L284.3 210.78 L284.8 211.23 L285.3 211.67 L285.8 212.09 L286.3 212.48 L286.8 212.85 L287.3 213.18 L287.8 213.48 L288.3 213.76 L288.8 214.02 L289.3 214.25 L289.8 214.44 L290.3 214.58 L290.8 214.71 L291.3 214.82 L291.8 214.93 L292.3 215.03 L292.8 215.12 L293.3 215.2 L293.8 215.28 L294.3 215.35 L294.8 215.42 L295.3 215.49 L295.8 215.55 L296.3 215.61 L296.8 215.67 L297.3 215.72 L297.8 215.77 L298.3 215.81 L298.8 215.85 L299.3 215.89 L299.8 215.94 L300.3 215.98 L300.8 216.02 L301.3 216.07 L301.8 216.13 L302.3 216.19 L302.8 216.25 L303.3 216.33 L303.8 216.41 L304.3 216.48 L304.8 216.56 L305.3 216.63 L305.8 216.7 L306.3 216.76 L306.8 216.82 L307.3 216.88 L307.8 216.93 L308.3 216.99 L308.8 217.04 L309.3 217.09 L309.8 217.14 L310.3 217.18 L310.8 217.22 L311.3 217.26 L311.8 217.29 L312.3 217.32 L312.8 217.34 L313.3 217.37 L313.8 217.39 L314.3 217.42 L314.8 217.44 L315.3 217.46 L315.8 217.48 L316.3 217.5 L316.8 217.52 L317.3 217.54 L317.8 217.55 L318.3 217.57 L318.8 217.58 L319.3 217.59 L319.8 217.6 L320.3 217.6 L320.8 217.61 L321.3 217.62 L321.8 217.62 L322.3 217.63 L322.8 217.64 L323.3 217.64 L323.8 217.65 L324.3 217.65 L324.8 217.66 L325.3 217.67 L325.8 217.67 L326.3 217.68 L326.8 217.68 L327.3 217.69 L327.8 217.69 L328.3 217.7 L328.8 217.7 L329.3 217.71 L329.8 217.71 L330.3 217.72 L330.8 217.72 L331.3 217.73 L331.8 217.73 L332.3 217.74 L332.8 217.74 L333.3 217.75 L333.8 217.75 L334.3 217.76 L334.8 217.76 L335.3 217.77 L335.8 217.77 L336.3 217.77 L336.8 217.78 L337.3 217.78 L337.8 217.79 L338.3 217.79 L338.8 217.79 L339.3 217.8 L339.8 217.8 L340.3 217.81 L340.8 217.81 L341.3 217.81 L341.8 217.82 L342.3 217.82 L342.8 217.82 L343.3 217.83 L343.8 217.83 L344.3 217.83 L344.8 217.84 L345.3 217.84 L345.8 217.84 L346.3 217.84 L346.8 217.85 L347.3 217.85 L347.8 217.85 L348.3 217.85 L348.8 217.86 L349.3 217.86 L349.8 217.86 L350.3 217.86 L350.8 217.87 L351.3 217.87 L351.8 217.87 L352.3 217.87 L352.8 217.87 L353.3 217.88 L353.8 217.88 L354.3 217.88 L354.8 217.88 L355.3 217.88 L355.8 217.88 L356.3 217.89 L356.8 217.89 L357.3 217.89 L357.8 217.89 L358.3 217.89 L358.8 217.89 L359.3 217.89 L359.8 217.89 L360.3 217.89 L360.8 217.9 L361.3 217.9 L361.8 217.9 L362.3 217.9 L362.8 217.9 L363.3 217.9 L363.8 217.9 L364.3 217.9 L364.8 217.9 L365.3 217.9 L365.8 217.9 L366.3 217.9 L366.8 217.9 L366.8 217.9 L225.8 217.9 Z" fill="#999999" fill-opacity="0.2" stroke="none"/>
<path d="M225.8 200.8 L226.3 198.93 L226.8 197.07 L227.3 195.23 L227.8 193.38 L228.3 191.49 L228.8 189.65 L229.3 188 L229.8 186.53 L230.3 185.17 L230.8 183.93 L231.3 182.8 L231.8 181.78 L232.3 180.85 L232.8 179.98 L233.3 179.15 L233.8 178.33 L234.3 177.51 L234.8 176.66 L235.3 175.82 L235.8 175 L236.3 174.19 L236.8 173.37 L237.3 172.53 L237.8 171.68 L238.3 170.8 L238.8 169.92 L239.3 169.02 L239.8 168.09 L240.3 167.12 L240.8 166.07 L241.3 164.95 L241.8 163.75 L242.3 162.5 L242.8 161.2 L243.3 159.81 L243.8 158.5 L244.3 157.32 L244.8 156.24 L245.3 155.34 L245.8 154.54 L246.3 153.81 L246.8 153.17 L247.3 152.66 L247.8 152.27 L248.3 151.91 L248.8 151.59 L249.3 151.34 L249.8 151.21 L250.3 151.22 L250.8 151.36 L251.3 151.58 L251.8 151.86 L252.3 152.17 L252.8 152.51 L253.3 152.94 L253.8 153.46 L254.3 154.06 L254.8 154.72 L255.3 155.46 L255.8 156.38 L256.3 157.42 L256.8 158.52 L257.3 159.59 L257.8 160.61 L258.3 161.63 L258.8 162.64 L259.3 163.62 L259.8 164.55 L260.3 165.43 L260.8 166.29 L261.3 167.15 L261.8 168.02 L262.3 168.86 L262.8 169.71 L263.3 170.61 L263.8 171.6 L264.3 172.66 L264.8 173.79 L265.3 174.99 L265.8 176.3 L266.3 177.76 L266.8 179.28 L267.3 180.8 L267.8 182.36 L268.3 183.93 L268.8 185.44 L269.3 186.82 L269.8 188.12 L270.3 189.37 L270.8 190.55 L271.3 191.66 L271.8 192.72 L272.3 193.73 L272.8 194.7 L273.3 195.63 L273.8 196.54 L274.3 197.42 L274.8 198.27 L275.3 199.1 L275.8 199.9 L276.3 200.69 L276.8 201.46 L277.3 202.22 L277.8 202.97 L278.3 203.69 L278.8 204.4 L279.3 205.09 L279.8 205.75 L280.3 206.38 L280.8 206.99 L281.3 207.6 L281.8 208.19 L282.3 208.75 L282.8 209.3 L283.3 209.82 L283.8 210.31 L284.3 210.78 L284.8 211.23 L285.3 211.67 L285.8 212.09 L286.3 212.48 L286.8 212.85 L287.3 213.18 L287.8 213.48 L288.3 213.76 L288.8 214.02 L289.3 214.25 L289.8 214.44 L290.3 214.58 L290.8 214.71 L291.3 214.82 L291.8 214.93 L292.3 215.03 L292.8 215.12 L293.3 215.2 L293.8 215.28 L294.3 215.35 L294.8 215.42 L295.3 215.49 L295.8 215.55 L296.3 215.61 L296.8 215.67 L297.3 215.72 L297.8 215.77 L298.3 215.81 L298.8 215.85 L299.3 215.89 L299.8 215.94 L300.3 215.98 L300.8 216.02 L301.3 216.07 L301.8 216.13 L302.3 216.19 L302.8 216.25 L303.3 216.33 L303.8 216.41 L304.3 216.48 L304.8 216.56 L305.3 216.63 L305.8 216.7 L306.3 216.76 L306.8 216.82 L307.3 216.88 L307.8 216.93 L308.3 216.99 L308.8 217.04 L309.3 217.09 L309.8 217.14 L310.3 217.18 L310.8 217.22 L311.3 217.26 L311.8 217.29 L312.3 217.32 L312.8 217.34 L313.3 217.37 L313.8 217.39 L314.3 217.42 L314.8 217.44 L315.3 217.46 L315.8 217.48 L316.3 217.5 L316.8 217.52 L317.3 217.54 L317.8 217.55 L318.3 217.57 L318.8 217.58 L319.3 217.59 L319.8 217.6 L320.3 217.6 L320.8 217.61 L321.3 217.62 L321.8 217.62 L322.3 217.63 L322.8 217.64 L323.3 217.64 L323.8 217.65 L324.3 217.65 L324.8 217.66 L325.3 217.67 L325.8 217.67 L326.3 217.68 L326.8 217.68 L327.3 217.69 L327.8 217.69 L328.3 217.7 L328.8 217.7 L329.3 217.71 L329.8 217.71 L330.3 217.72 L330.8 217.72 L331.3 217.73 L331.8 217.73 L332.3 217.74 L332.8 217.74 L333.3 217.75 L333.8 217.75 L334.3 217.76 L334.8 217.76 L335.3 217.77 L335.8 217.77 L336.3 217.77 L336.8 217.78 L337.3 217.78 L337.8 217.79 L338.3 217.79 L338.8 217.79 L339.3 217.8 L339.8 217.8 L340.3 217.81 L340.8 217.81 L341.3 217.81 L341.8 217.82 L342.3 217.82 L342.8 217.82 L343.3 217.83 L343.8 217.83 L344.3 217.83 L344.8 217.84 L345.3 217.84 L345.8 217.84 L346.3 217.84 L346.8 217.85 L347.3 217.85 L347.8 217.85 L348.3 217.85 L348.8 217.86 L349.3 217.86 L349.8 217.86 L350.3 217.86 L350.8 217.87 L351.3 217.87 L351.8 217.87 L352.3 217.87 L352.8 217.87 L353.3 217.88 L353.8 217.88 L354.3 217.88 L354.8 217.88 L355.3 217.88 L355.8 217.88 L356.3 217.89 L356.8 217.89 L357.3 217.89 L357.8 217.89 L358.3 217.89 L358.8 217.89 L359.3 217.89 L359.8 217.89 L360.3 217.89 L360.8 217.9 L361.3 217.9 L361.8 217.9 L362.3 217.9 L362.8 217.9 L363.3 217.9 L363.8 217.9 L364.3 217.9 L364.8 217.9 L365.3 217.9 L365.8 217.9 L366.3 217.9 L366.8 217.9" fill="none" stroke="#999999" stroke-width="2.3" stroke-linejoin="round" stroke-linecap="butt"/>
<path d="M225.8 200.5 L226.3 198.47 L226.8 196.47 L227.3 194.5 L227.8 192.51 L228.3 190.53 L228.8 188.68 L229.3 187.03 L229.8 185.48 L230.3 184.06 L230.8 182.8 L231.3 181.68 L231.8 180.67 L232.3 179.72 L232.8 178.82 L233.3 177.92 L233.8 177 L234.3 176.06 L234.8 175.14 L235.3 174.22 L235.8 173.31 L236.3 172.4 L236.8 171.5 L237.3 170.59 L237.8 169.67 L238.3 168.76 L238.8 167.87 L239.3 167 L239.8 166.17 L240.3 165.33 L240.8 164.51 L241.3 163.72 L241.8 163.01 L242.3 162.38 L242.8 161.8 L243.3 161.25 L243.8 160.78 L244.3 160.41 L244.8 160.16 L245.3 159.93 L245.8 159.73 L246.3 159.58 L246.8 159.51 L247.3 159.51 L247.8 159.57 L248.3 159.68 L248.8 159.81 L249.3 159.95 L249.8 160.09 L250.3 160.26 L250.8 160.47 L251.3 160.69 L251.8 160.91 L252.3 161.13 L252.8 161.37 L253.3 161.61 L253.8 161.87 L254.3 162.13 L254.8 162.39 L255.3 162.64 L255.8 162.9 L256.3 163.15 L256.8 163.37 L257.3 163.59 L257.8 163.82 L258.3 164.08 L258.8 164.37 L259.3 164.72 L259.8 165.16 L260.3 165.67 L260.8 166.25 L261.3 166.91 L261.8 167.72 L262.3 168.63 L262.8 169.61 L263.3 170.6 L263.8 171.66 L264.3 172.79 L264.8 173.99 L265.3 175.3 L265.8 176.76 L266.3 178.28 L266.8 179.8 L267.3 181.36 L267.8 182.93 L268.3 184.44 L268.8 185.82 L269.3 187.12 L269.8 188.37 L270.3 189.55 L270.8 190.66 L271.3 191.72 L271.8 192.73 L272.3 193.7 L272.8 194.63 L273.3 195.54 L273.8 196.42 L274.3 197.27 L274.8 198.1 L275.3 198.9 L275.8 199.69 L276.3 200.46 L276.8 201.22 L277.3 201.97 L277.8 202.69 L278.3 203.4 L278.8 204.09 L279.3 204.75 L279.8 205.38 L280.3 205.99 L280.8 206.59 L281.3 207.17 L281.8 207.73 L282.3 208.28 L282.8 208.8 L283.3 209.3 L283.8 209.79 L284.3 210.29 L284.8 210.79 L285.3 211.26 L285.8 211.7 L286.3 212.08 L286.8 212.4 L287.3 212.64 L287.8 212.88 L288.3 213.1 L288.8 213.28 L289.3 213.42 L289.8 213.49 L290.3 213.5 L290.8 213.5 L291.3 213.5 L291.8 213.5 L292.3 213.5 L292.8 213.5 L293.3 213.5 L293.8 213.5 L294.3 213.5 L294.8 213.52 L295.3 213.56 L295.8 213.6 L296.3 213.65 L296.8 213.7 L297.3 213.75 L297.8 213.79 L298.3 213.82 L298.8 213.84 L299.3 213.86 L299.8 213.89 L300.3 213.91 L300.8 213.93 L301.3 213.96 L301.8 213.99 L302.3 214.02 L302.8 214.07 L303.3 214.12 L303.8 214.18 L304.3 214.24 L304.8 214.31 L305.3 214.39 L305.8 214.47 L306.3 214.56 L306.8 214.67 L307.3 214.81 L307.8 214.95 L308.3 215.1 L308.8 215.26 L309.3 215.4 L309.8 215.53 L310.3 215.64 L310.8 215.75 L311.3 215.86 L311.8 215.97 L312.3 216.07 L312.8 216.17 L313.3 216.26 L313.8 216.34 L314.3 216.41 L314.8 216.47 L315.3 216.52 L315.8 216.57 L316.3 216.61 L316.8 216.64 L317.3 216.68 L317.8 216.71 L318.3 216.74 L318.8 216.77 L319.3 216.8 L319.8 216.83 L320.3 216.86 L320.8 216.89 L321.3 216.93 L321.8 216.96 L322.3 217 L322.8 217.03 L323.3 217.07 L323.8 217.1 L324.3 217.13 L324.8 217.15 L325.3 217.18 L325.8 217.2 L326.3 217.22 L326.8 217.24 L327.3 217.26 L327.8 217.28 L328.3 217.3 L328.8 217.31 L329.3 217.33 L329.8 217.35 L330.3 217.37 L330.8 217.38 L331.3 217.4 L331.8 217.42 L332.3 217.43 L332.8 217.45 L333.3 217.46 L333.8 217.47 L334.3 217.49 L334.8 217.5 L335.3 217.51 L335.8 217.53 L336.3 217.54 L336.8 217.55 L337.3 217.56 L337.8 217.57 L338.3 217.57 L338.8 217.58 L339.3 217.59 L339.8 217.6 L340.3 217.6 L340.8 217.61 L341.3 217.62 L341.8 217.62 L342.3 217.63 L342.8 217.63 L343.3 217.64 L343.8 217.65 L344.3 217.65 L344.8 217.66 L345.3 217.66 L345.8 217.67 L346.3 217.67 L346.8 217.68 L347.3 217.69 L347.8 217.69 L348.3 217.7 L348.8 217.7 L349.3 217.71 L349.8 217.71 L350.3 217.71 L350.8 217.72 L351.3 217.72 L351.8 217.73 L352.3 217.73 L352.8 217.74 L353.3 217.74 L353.8 217.75 L354.3 217.75 L354.8 217.75 L355.3 217.76 L355.8 217.76 L356.3 217.76 L356.8 217.77 L357.3 217.77 L357.8 217.77 L358.3 217.78 L358.8 217.78 L359.3 217.78 L359.8 217.78 L360.3 217.79 L360.8 217.79 L361.3 217.79 L361.8 217.79 L362.3 217.79 L362.8 217.79 L363.3 217.8 L363.8 217.8 L364.3 217.8 L364.8 217.8 L365.3 217.8 L365.8 217.8 L366.3 217.8 L366.8 217.8 L366.8 217.9 L225.8 217.9 Z" fill="#E69F00" fill-opacity="0.2" stroke="none"/>
<path d="M225.8 200.5 L226.3 198.47 L226.8 196.47 L227.3 194.5 L227.8 192.51 L228.3 190.53 L228.8 188.68 L229.3 187.03 L229.8 185.48 L230.3 184.06 L230.8 182.8 L231.3 181.68 L231.8 180.67 L232.3 179.72 L232.8 178.82 L233.3 177.92 L233.8 177 L234.3 176.06 L234.8 175.14 L235.3 174.22 L235.8 173.31 L236.3 172.4 L236.8 171.5 L237.3 170.59 L237.8 169.67 L238.3 168.76 L238.8 167.87 L239.3 167 L239.8 166.17 L240.3 165.33 L240.8 164.51 L241.3 163.72 L241.8 163.01 L242.3 162.38 L242.8 161.8 L243.3 161.25 L243.8 160.78 L244.3 160.41 L244.8 160.16 L245.3 159.93 L245.8 159.73 L246.3 159.58 L246.8 159.51 L247.3 159.51 L247.8 159.57 L248.3 159.68 L248.8 159.81 L249.3 159.95 L249.8 160.09 L250.3 160.26 L250.8 160.47 L251.3 160.69 L251.8 160.91 L252.3 161.13 L252.8 161.37 L253.3 161.61 L253.8 161.87 L254.3 162.13 L254.8 162.39 L255.3 162.64 L255.8 162.9 L256.3 163.15 L256.8 163.37 L257.3 163.59 L257.8 163.82 L258.3 164.08 L258.8 164.37 L259.3 164.72 L259.8 165.16 L260.3 165.67 L260.8 166.25 L261.3 166.91 L261.8 167.72 L262.3 168.63 L262.8 169.61 L263.3 170.6 L263.8 171.66 L264.3 172.79 L264.8 173.99 L265.3 175.3 L265.8 176.76 L266.3 178.28 L266.8 179.8 L267.3 181.36 L267.8 182.93 L268.3 184.44 L268.8 185.82 L269.3 187.12 L269.8 188.37 L270.3 189.55 L270.8 190.66 L271.3 191.72 L271.8 192.73 L272.3 193.7 L272.8 194.63 L273.3 195.54 L273.8 196.42 L274.3 197.27 L274.8 198.1 L275.3 198.9 L275.8 199.69 L276.3 200.46 L276.8 201.22 L277.3 201.97 L277.8 202.69 L278.3 203.4 L278.8 204.09 L279.3 204.75 L279.8 205.38 L280.3 205.99 L280.8 206.59 L281.3 207.17 L281.8 207.73 L282.3 208.28 L282.8 208.8 L283.3 209.3 L283.8 209.79 L284.3 210.29 L284.8 210.79 L285.3 211.26 L285.8 211.7 L286.3 212.08 L286.8 212.4 L287.3 212.64 L287.8 212.88 L288.3 213.1 L288.8 213.28 L289.3 213.42 L289.8 213.49 L290.3 213.5 L290.8 213.5 L291.3 213.5 L291.8 213.5 L292.3 213.5 L292.8 213.5 L293.3 213.5 L293.8 213.5 L294.3 213.5 L294.8 213.52 L295.3 213.56 L295.8 213.6 L296.3 213.65 L296.8 213.7 L297.3 213.75 L297.8 213.79 L298.3 213.82 L298.8 213.84 L299.3 213.86 L299.8 213.89 L300.3 213.91 L300.8 213.93 L301.3 213.96 L301.8 213.99 L302.3 214.02 L302.8 214.07 L303.3 214.12 L303.8 214.18 L304.3 214.24 L304.8 214.31 L305.3 214.39 L305.8 214.47 L306.3 214.56 L306.8 214.67 L307.3 214.81 L307.8 214.95 L308.3 215.1 L308.8 215.26 L309.3 215.4 L309.8 215.53 L310.3 215.64 L310.8 215.75 L311.3 215.86 L311.8 215.97 L312.3 216.07 L312.8 216.17 L313.3 216.26 L313.8 216.34 L314.3 216.41 L314.8 216.47 L315.3 216.52 L315.8 216.57 L316.3 216.61 L316.8 216.64 L317.3 216.68 L317.8 216.71 L318.3 216.74 L318.8 216.77 L319.3 216.8 L319.8 216.83 L320.3 216.86 L320.8 216.89 L321.3 216.93 L321.8 216.96 L322.3 217 L322.8 217.03 L323.3 217.07 L323.8 217.1 L324.3 217.13 L324.8 217.15 L325.3 217.18 L325.8 217.2 L326.3 217.22 L326.8 217.24 L327.3 217.26 L327.8 217.28 L328.3 217.3 L328.8 217.31 L329.3 217.33 L329.8 217.35 L330.3 217.37 L330.8 217.38 L331.3 217.4 L331.8 217.42 L332.3 217.43 L332.8 217.45 L333.3 217.46 L333.8 217.47 L334.3 217.49 L334.8 217.5 L335.3 217.51 L335.8 217.53 L336.3 217.54 L336.8 217.55 L337.3 217.56 L337.8 217.57 L338.3 217.57 L338.8 217.58 L339.3 217.59 L339.8 217.6 L340.3 217.6 L340.8 217.61 L341.3 217.62 L341.8 217.62 L342.3 217.63 L342.8 217.63 L343.3 217.64 L343.8 217.65 L344.3 217.65 L344.8 217.66 L345.3 217.66 L345.8 217.67 L346.3 217.67 L346.8 217.68 L347.3 217.69 L347.8 217.69 L348.3 217.7 L348.8 217.7 L349.3 217.71 L349.8 217.71 L350.3 217.71 L350.8 217.72 L351.3 217.72 L351.8 217.73 L352.3 217.73 L352.8 217.74 L353.3 217.74 L353.8 217.75 L354.3 217.75 L354.8 217.75 L355.3 217.76 L355.8 217.76 L356.3 217.76 L356.8 217.77 L357.3 217.77 L357.8 217.77 L358.3 217.78 L358.8 217.78 L359.3 217.78 L359.8 217.78 L360.3 217.79 L360.8 217.79 L361.3 217.79 L361.8 217.79 L362.3 217.79 L362.8 217.79 L363.3 217.8 L363.8 217.8 L364.3 217.8 L364.8 217.8 L365.3 217.8 L365.8 217.8 L366.3 217.8 L366.8 217.8" fill="none" stroke="#E69F00" stroke-width="2.3" stroke-linejoin="round" stroke-linecap="butt"/>
<path d="M225.8 175 L226.3 163 L226.8 152.26 L227.3 140.05 L227.8 127.83 L228.3 115.25 L228.8 100.16 L229.3 88.96 L229.8 80 L230.3 69.63 L230.8 62.89 L231.3 58.15 L231.8 54.4 L232.3 52.59 L232.8 52.04 L233.3 53.17 L233.8 55.91 L234.3 60.46 L234.8 66.32 L235.3 73.93 L235.8 82 L236.3 86.69 L236.8 90.44 L237.3 94.37 L237.8 98.3 L238.3 102.82 L238.8 107.95 L239.3 113 L239.8 117.53 L240.3 122.04 L240.8 127.01 L241.3 133 L241.8 143.05 L242.3 152.08 L242.8 158.56 L243.3 163.4 L243.8 167.2 L244.3 170.5 L244.8 173.26 L245.3 175.37 L245.8 176.98 L246.3 178.31 L246.8 179.52 L247.3 180.71 L247.8 181.81 L248.3 182.84 L248.8 183.89 L249.3 185 L249.8 186.17 L250.3 187.36 L250.8 188.63 L251.3 190 L251.8 191.52 L252.3 193.2 L252.8 195 L253.3 196.96 L253.8 199.1 L254.3 201.51 L254.8 204.14 L255.3 206.15 L255.8 207.93 L256.3 209.21 L256.8 209.79 L257.3 210.19 L257.8 210.48 L258.3 210.72 L258.8 210.92 L259.3 211.1 L259.8 211.24 L260.3 211.36 L260.8 211.52 L261.3 211.78 L261.8 212.21 L262.3 212.74 L262.8 213.29 L263.3 213.81 L263.8 214.37 L264.3 214.93 L264.8 215.41 L265.3 215.8 L265.8 216.17 L266.3 216.51 L266.8 216.82 L267.3 217.07 L267.8 217.25 L268.3 217.36 L268.8 217.46 L269.3 217.55 L269.8 217.63 L270.3 217.69 L270.8 217.74 L271.3 217.78 L271.8 217.8 L272.3 217.8 L272.8 217.8 L273.3 217.8 L273.8 217.81 L274.3 217.81 L274.8 217.81 L275.3 217.81 L275.8 217.81 L276.3 217.81 L276.8 217.81 L277.3 217.82 L277.8 217.82 L278.3 217.82 L278.8 217.82 L279.3 217.82 L279.8 217.82 L280.3 217.82 L280.8 217.82 L281.3 217.83 L281.8 217.83 L282.3 217.83 L282.8 217.83 L283.3 217.83 L283.8 217.83 L284.3 217.83 L284.8 217.83 L285.3 217.83 L285.8 217.84 L286.3 217.84 L286.8 217.84 L287.3 217.84 L287.8 217.84 L288.3 217.84 L288.8 217.84 L289.3 217.84 L289.8 217.84 L290.3 217.85 L290.8 217.85 L291.3 217.85 L291.8 217.85 L292.3 217.85 L292.8 217.85 L293.3 217.85 L293.8 217.85 L294.3 217.85 L294.8 217.85 L295.3 217.85 L295.8 217.86 L296.3 217.86 L296.8 217.86 L297.3 217.86 L297.8 217.86 L298.3 217.86 L298.8 217.86 L299.3 217.86 L299.8 217.86 L300.3 217.86 L300.8 217.86 L301.3 217.86 L301.8 217.87 L302.3 217.87 L302.8 217.87 L303.3 217.87 L303.8 217.87 L304.3 217.87 L304.8 217.87 L305.3 217.87 L305.8 217.87 L306.3 217.87 L306.8 217.87 L307.3 217.87 L307.8 217.87 L308.3 217.87 L308.8 217.87 L309.3 217.88 L309.8 217.88 L310.3 217.88 L310.8 217.88 L311.3 217.88 L311.8 217.88 L312.3 217.88 L312.8 217.88 L313.3 217.88 L313.8 217.88 L314.3 217.88 L314.8 217.88 L315.3 217.88 L315.8 217.88 L316.3 217.88 L316.8 217.88 L317.3 217.88 L317.8 217.88 L318.3 217.88 L318.8 217.88 L319.3 217.89 L319.8 217.89 L320.3 217.89 L320.8 217.89 L321.3 217.89 L321.8 217.89 L322.3 217.89 L322.8 217.89 L323.3 217.89 L323.8 217.89 L324.3 217.89 L324.8 217.89 L325.3 217.89 L325.8 217.89 L326.3 217.89 L326.8 217.89 L327.3 217.89 L327.8 217.89 L328.3 217.89 L328.8 217.89 L329.3 217.89 L329.8 217.89 L330.3 217.89 L330.8 217.89 L331.3 217.89 L331.8 217.89 L332.3 217.89 L332.8 217.89 L333.3 217.89 L333.8 217.89 L334.3 217.89 L334.8 217.89 L335.3 217.9 L335.8 217.9 L336.3 217.9 L336.8 217.9 L337.3 217.9 L337.8 217.9 L338.3 217.9 L338.8 217.9 L339.3 217.9 L339.8 217.9 L340.3 217.9 L340.8 217.9 L341.3 217.9 L341.8 217.9 L342.3 217.9 L342.8 217.9 L343.3 217.9 L343.8 217.9 L344.3 217.9 L344.8 217.9 L345.3 217.9 L345.8 217.9 L346.3 217.9 L346.8 217.9 L347.3 217.9 L347.8 217.9 L348.3 217.9 L348.8 217.9 L349.3 217.9 L349.8 217.9 L350.3 217.9 L350.8 217.9 L351.3 217.9 L351.8 217.9 L352.3 217.9 L352.8 217.9 L353.3 217.9 L353.8 217.9 L354.3 217.9 L354.8 217.9 L355.3 217.9 L355.8 217.9 L356.3 217.9 L356.8 217.9 L357.3 217.9 L357.8 217.9 L358.3 217.9 L358.8 217.9 L359.3 217.9 L359.8 217.9 L360.3 217.9 L360.8 217.9 L361.3 217.9 L361.8 217.9 L362.3 217.9 L362.8 217.9 L363.3 217.9 L363.8 217.9 L364.3 217.9 L364.8 217.9 L365.3 217.9 L365.8 217.9 L366.3 217.9 L366.8 217.9 L366.8 217.9 L225.8 217.9 Z" fill="#56B4E9" fill-opacity="0.2" stroke="none"/>
<path d="M225.8 175 L226.3 163 L226.8 152.26 L227.3 140.05 L227.8 127.83 L228.3 115.25 L228.8 100.16 L229.3 88.96 L229.8 80 L230.3 69.63 L230.8 62.89 L231.3 58.15 L231.8 54.4 L232.3 52.59 L232.8 52.04 L233.3 53.17 L233.8 55.91 L234.3 60.46 L234.8 66.32 L235.3 73.93 L235.8 82 L236.3 86.69 L236.8 90.44 L237.3 94.37 L237.8 98.3 L238.3 102.82 L238.8 107.95 L239.3 113 L239.8 117.53 L240.3 122.04 L240.8 127.01 L241.3 133 L241.8 143.05 L242.3 152.08 L242.8 158.56 L243.3 163.4 L243.8 167.2 L244.3 170.5 L244.8 173.26 L245.3 175.37 L245.8 176.98 L246.3 178.31 L246.8 179.52 L247.3 180.71 L247.8 181.81 L248.3 182.84 L248.8 183.89 L249.3 185 L249.8 186.17 L250.3 187.36 L250.8 188.63 L251.3 190 L251.8 191.52 L252.3 193.2 L252.8 195 L253.3 196.96 L253.8 199.1 L254.3 201.51 L254.8 204.14 L255.3 206.15 L255.8 207.93 L256.3 209.21 L256.8 209.79 L257.3 210.19 L257.8 210.48 L258.3 210.72 L258.8 210.92 L259.3 211.1 L259.8 211.24 L260.3 211.36 L260.8 211.52 L261.3 211.78 L261.8 212.21 L262.3 212.74 L262.8 213.29 L263.3 213.81 L263.8 214.37 L264.3 214.93 L264.8 215.41 L265.3 215.8 L265.8 216.17 L266.3 216.51 L266.8 216.82 L267.3 217.07 L267.8 217.25 L268.3 217.36 L268.8 217.46 L269.3 217.55 L269.8 217.63 L270.3 217.69 L270.8 217.74 L271.3 217.78 L271.8 217.8 L272.3 217.8 L272.8 217.8 L273.3 217.8 L273.8 217.81 L274.3 217.81 L274.8 217.81 L275.3 217.81 L275.8 217.81 L276.3 217.81 L276.8 217.81 L277.3 217.82 L277.8 217.82 L278.3 217.82 L278.8 217.82 L279.3 217.82 L279.8 217.82 L280.3 217.82 L280.8 217.82 L281.3 217.83 L281.8 217.83 L282.3 217.83 L282.8 217.83 L283.3 217.83 L283.8 217.83 L284.3 217.83 L284.8 217.83 L285.3 217.83 L285.8 217.84 L286.3 217.84 L286.8 217.84 L287.3 217.84 L287.8 217.84 L288.3 217.84 L288.8 217.84 L289.3 217.84 L289.8 217.84 L290.3 217.85 L290.8 217.85 L291.3 217.85 L291.8 217.85 L292.3 217.85 L292.8 217.85 L293.3 217.85 L293.8 217.85 L294.3 217.85 L294.8 217.85 L295.3 217.85 L295.8 217.86 L296.3 217.86 L296.8 217.86 L297.3 217.86 L297.8 217.86 L298.3 217.86 L298.8 217.86 L299.3 217.86 L299.8 217.86 L300.3 217.86 L300.8 217.86 L301.3 217.86 L301.8 217.87 L302.3 217.87 L302.8 217.87 L303.3 217.87 L303.8 217.87 L304.3 217.87 L304.8 217.87 L305.3 217.87 L305.8 217.87 L306.3 217.87 L306.8 217.87 L307.3 217.87 L307.8 217.87 L308.3 217.87 L308.8 217.87 L309.3 217.88 L309.8 217.88 L310.3 217.88 L310.8 217.88 L311.3 217.88 L311.8 217.88 L312.3 217.88 L312.8 217.88 L313.3 217.88 L313.8 217.88 L314.3 217.88 L314.8 217.88 L315.3 217.88 L315.8 217.88 L316.3 217.88 L316.8 217.88 L317.3 217.88 L317.8 217.88 L318.3 217.88 L318.8 217.88 L319.3 217.89 L319.8 217.89 L320.3 217.89 L320.8 217.89 L321.3 217.89 L321.8 217.89 L322.3 217.89 L322.8 217.89 L323.3 217.89 L323.8 217.89 L324.3 217.89 L324.8 217.89 L325.3 217.89 L325.8 217.89 L326.3 217.89 L326.8 217.89 L327.3 217.89 L327.8 217.89 L328.3 217.89 L328.8 217.89 L329.3 217.89 L329.8 217.89 L330.3 217.89 L330.8 217.89 L331.3 217.89 L331.8 217.89 L332.3 217.89 L332.8 217.89 L333.3 217.89 L333.8 217.89 L334.3 217.89 L334.8 217.89 L335.3 217.9 L335.8 217.9 L336.3 217.9 L336.8 217.9 L337.3 217.9 L337.8 217.9 L338.3 217.9 L338.8 217.9 L339.3 217.9 L339.8 217.9 L340.3 217.9 L340.8 217.9 L341.3 217.9 L341.8 217.9 L342.3 217.9 L342.8 217.9 L343.3 217.9 L343.8 217.9 L344.3 217.9 L344.8 217.9 L345.3 217.9 L345.8 217.9 L346.3 217.9 L346.8 217.9 L347.3 217.9 L347.8 217.9 L348.3 217.9 L348.8 217.9 L349.3 217.9 L349.8 217.9 L350.3 217.9 L350.8 217.9 L351.3 217.9 L351.8 217.9 L352.3 217.9 L352.8 217.9 L353.3 217.9 L353.8 217.9 L354.3 217.9 L354.8 217.9 L355.3 217.9 L355.8 217.9 L356.3 217.9 L356.8 217.9 L357.3 217.9 L357.8 217.9 L358.3 217.9 L358.8 217.9 L359.3 217.9 L359.8 217.9 L360.3 217.9 L360.8 217.9 L361.3 217.9 L361.8 217.9 L362.3 217.9 L362.8 217.9 L363.3 217.9 L363.8 217.9 L364.3 217.9 L364.8 217.9 L365.3 217.9 L365.8 217.9 L366.3 217.9 L366.8 217.9" fill="none" stroke="#56B4E9" stroke-width="2.3" stroke-linejoin="round" stroke-linecap="butt"/>
<rect x="219.5" y="43.6" width="153.5" height="182.1" fill="none" stroke="#333" stroke-width="1.1"/>
<g stroke="#333" stroke-width="1.1"><line x1="225.8" x2="225.8" y1="225.7" y2="231.7"/><line x1="259.07" x2="259.07" y1="225.7" y2="231.7"/><line x1="292.34" x2="292.34" y1="225.7" y2="231.7"/><line x1="325.61" x2="325.61" y1="225.7" y2="231.7"/><line x1="358.88" x2="358.88" y1="225.7" y2="231.7"/></g>
<g class="tk"><text x="225.8" y="250.7" text-anchor="middle" textLength="19" lengthAdjust="spacingAndGlyphs">0.0</text><text x="259.07" y="250.7" text-anchor="middle" textLength="19" lengthAdjust="spacingAndGlyphs">0.2</text><text x="292.34" y="250.7" text-anchor="middle" textLength="19" lengthAdjust="spacingAndGlyphs">0.4</text><text x="325.61" y="250.7" text-anchor="middle" textLength="19" lengthAdjust="spacingAndGlyphs">0.6</text><text x="358.88" y="250.7" text-anchor="middle" textLength="19" lengthAdjust="spacingAndGlyphs">0.8</text></g>
<rect x="385.8" y="7.5" width="153.8" height="36.1" fill="#D9D9D9" stroke="#333" stroke-width="1.1"/>
<rect x="385.8" y="43.6" width="153.8" height="182.1" fill="#fff"/>
<g stroke="#E6E6E6"><line x1="392.6" x2="392.6" y1="43.6" y2="225.7" stroke-width="1.25"/><line x1="409.24" x2="409.24" y1="43.6" y2="225.7" stroke-width="0.65"/><line x1="425.87" x2="425.87" y1="43.6" y2="225.7" stroke-width="1.25"/><line x1="442.51" x2="442.51" y1="43.6" y2="225.7" stroke-width="0.65"/><line x1="459.14" x2="459.14" y1="43.6" y2="225.7" stroke-width="1.25"/><line x1="475.78" x2="475.78" y1="43.6" y2="225.7" stroke-width="0.65"/><line x1="492.41" x2="492.41" y1="43.6" y2="225.7" stroke-width="1.25"/><line x1="509.05" x2="509.05" y1="43.6" y2="225.7" stroke-width="0.65"/><line x1="525.68" x2="525.68" y1="43.6" y2="225.7" stroke-width="1.25"/><line x1="385.8" x2="539.6" y1="217.9" y2="217.9" stroke-width="1.25"/><line x1="385.8" x2="539.6" y1="195.12" y2="195.12" stroke-width="0.65"/><line x1="385.8" x2="539.6" y1="172.33" y2="172.33" stroke-width="1.25"/><line x1="385.8" x2="539.6" y1="149.55" y2="149.55" stroke-width="0.65"/><line x1="385.8" x2="539.6" y1="126.76" y2="126.76" stroke-width="1.25"/><line x1="385.8" x2="539.6" y1="103.98" y2="103.98" stroke-width="0.65"/><line x1="385.8" x2="539.6" y1="81.19" y2="81.19" stroke-width="1.25"/><line x1="385.8" x2="539.6" y1="58.41" y2="58.41" stroke-width="0.65"/></g>
<path d="M392.6 201.5 L393.1 198.62 L393.6 195.95 L394.1 193.54 L394.6 191.37 L395.1 189.35 L395.6 187.45 L396.1 185.64 L396.6 183.91 L397.1 182.26 L397.6 180.69 L398.1 179.21 L398.6 177.86 L399.1 176.59 L399.6 175.36 L400.1 174.08 L400.6 172.71 L401.1 171.19 L401.6 169.72 L402.1 168.41 L402.6 167.12 L403.1 165.7 L403.6 164.01 L404.1 162.16 L404.6 160.31 L405.1 158.62 L405.6 157.26 L406.1 156.14 L406.6 155.17 L407.1 154.34 L407.6 153.57 L408.1 152.86 L408.6 152.29 L409.1 151.95 L409.6 151.7 L410.1 151.49 L410.6 151.33 L411.1 151.23 L411.6 151.2 L412.1 151.27 L412.6 151.4 L413.1 151.6 L413.6 151.82 L414.1 152.05 L414.6 152.35 L415.1 152.73 L415.6 153.15 L416.1 153.59 L416.6 154.04 L417.1 154.54 L417.6 155.06 L418.1 155.61 L418.6 156.18 L419.1 156.79 L419.6 157.44 L420.1 158.15 L420.6 158.94 L421.1 159.8 L421.6 160.73 L422.1 161.7 L422.6 162.72 L423.1 163.81 L423.6 164.99 L424.1 166.27 L424.6 167.75 L425.1 169.35 L425.6 170.99 L426.1 172.67 L426.6 174.33 L427.1 175.93 L427.6 177.27 L428.1 178.43 L428.6 179.54 L429.1 180.71 L429.6 181.9 L430.1 183.06 L430.6 184.14 L431.1 185.16 L431.6 186.13 L432.1 187.03 L432.6 187.88 L433.1 188.69 L433.6 189.47 L434.1 190.22 L434.6 190.95 L435.1 191.64 L435.6 192.3 L436.1 192.94 L436.6 193.54 L437.1 194.11 L437.6 194.62 L438.1 195.09 L438.6 195.58 L439.1 196.11 L439.6 196.71 L440.1 197.34 L440.6 197.99 L441.1 198.63 L441.6 199.25 L442.1 199.88 L442.6 200.5 L443.1 201.13 L443.6 201.77 L444.1 202.41 L444.6 203.04 L445.1 203.61 L445.6 204.13 L446.1 204.62 L446.6 205.11 L447.1 205.6 L447.6 206.09 L448.1 206.59 L448.6 207.09 L449.1 207.61 L449.6 208.16 L450.1 208.73 L450.6 209.28 L451.1 209.8 L451.6 210.3 L452.1 210.78 L452.6 211.21 L453.1 211.56 L453.6 211.87 L454.1 212.14 L454.6 212.39 L455.1 212.62 L455.6 212.84 L456.1 213.04 L456.6 213.23 L457.1 213.42 L457.6 213.59 L458.1 213.75 L458.6 213.89 L459.1 214.03 L459.6 214.14 L460.1 214.26 L460.6 214.36 L461.1 214.46 L461.6 214.55 L462.1 214.64 L462.6 214.73 L463.1 214.82 L463.6 214.9 L464.1 214.98 L464.6 215.06 L465.1 215.14 L465.6 215.21 L466.1 215.29 L466.6 215.36 L467.1 215.44 L467.6 215.51 L468.1 215.59 L468.6 215.67 L469.1 215.76 L469.6 215.85 L470.1 215.94 L470.6 216.03 L471.1 216.12 L471.6 216.21 L472.1 216.3 L472.6 216.39 L473.1 216.47 L473.6 216.54 L474.1 216.62 L474.6 216.68 L475.1 216.74 L475.6 216.79 L476.1 216.84 L476.6 216.9 L477.1 216.95 L477.6 217 L478.1 217.05 L478.6 217.1 L479.1 217.15 L479.6 217.19 L480.1 217.24 L480.6 217.28 L481.1 217.32 L481.6 217.35 L482.1 217.39 L482.6 217.42 L483.1 217.44 L483.6 217.46 L484.1 217.48 L484.6 217.49 L485.1 217.5 L485.6 217.51 L486.1 217.52 L486.6 217.52 L487.1 217.53 L487.6 217.54 L488.1 217.54 L488.6 217.55 L489.1 217.55 L489.6 217.56 L490.1 217.57 L490.6 217.57 L491.1 217.58 L491.6 217.58 L492.1 217.59 L492.6 217.6 L493.1 217.6 L493.6 217.61 L494.1 217.61 L494.6 217.62 L495.1 217.62 L495.6 217.63 L496.1 217.63 L496.6 217.64 L497.1 217.64 L497.6 217.65 L498.1 217.65 L498.6 217.66 L499.1 217.66 L499.6 217.67 L500.1 217.67 L500.6 217.67 L501.1 217.68 L501.6 217.68 L502.1 217.69 L502.6 217.69 L503.1 217.69 L503.6 217.7 L504.1 217.7 L504.6 217.71 L505.1 217.71 L505.6 217.71 L506.1 217.72 L506.6 217.72 L507.1 217.72 L507.6 217.73 L508.1 217.73 L508.6 217.73 L509.1 217.73 L509.6 217.74 L510.1 217.74 L510.6 217.74 L511.1 217.75 L511.6 217.75 L512.1 217.75 L512.6 217.75 L513.1 217.76 L513.6 217.76 L514.1 217.76 L514.6 217.76 L515.1 217.76 L515.6 217.77 L516.1 217.77 L516.6 217.77 L517.1 217.77 L517.6 217.77 L518.1 217.78 L518.6 217.78 L519.1 217.78 L519.6 217.78 L520.1 217.78 L520.6 217.78 L521.1 217.78 L521.6 217.79 L522.1 217.79 L522.6 217.79 L523.1 217.79 L523.6 217.79 L524.1 217.79 L524.6 217.79 L525.1 217.79 L525.6 217.79 L526.1 217.79 L526.6 217.8 L527.1 217.8 L527.6 217.8 L528.1 217.8 L528.6 217.8 L529.1 217.8 L529.6 217.8 L530.1 217.8 L530.6 217.8 L531.1 217.8 L531.6 217.8 L532.1 217.8 L532.6 217.8 L533.1 217.8 L533.6 217.8 L533.6 217.9 L392.6 217.9 Z" fill="#999999" fill-opacity="0.2" stroke="none"/>
<path d="M392.6 201.5 L393.1 198.62 L393.6 195.95 L394.1 193.54 L394.6 191.37 L395.1 189.35 L395.6 187.45 L396.1 185.64 L396.6 183.91 L397.1 182.26 L397.6 180.69 L398.1 179.21 L398.6 177.86 L399.1 176.59 L399.6 175.36 L400.1 174.08 L400.6 172.71 L401.1 171.19 L401.6 169.72 L402.1 168.41 L402.6 167.12 L403.1 165.7 L403.6 164.01 L404.1 162.16 L404.6 160.31 L405.1 158.62 L405.6 157.26 L406.1 156.14 L406.6 155.17 L407.1 154.34 L407.6 153.57 L408.1 152.86 L408.6 152.29 L409.1 151.95 L409.6 151.7 L410.1 151.49 L410.6 151.33 L411.1 151.23 L411.6 151.2 L412.1 151.27 L412.6 151.4 L413.1 151.6 L413.6 151.82 L414.1 152.05 L414.6 152.35 L415.1 152.73 L415.6 153.15 L416.1 153.59 L416.6 154.04 L417.1 154.54 L417.6 155.06 L418.1 155.61 L418.6 156.18 L419.1 156.79 L419.6 157.44 L420.1 158.15 L420.6 158.94 L421.1 159.8 L421.6 160.73 L422.1 161.7 L422.6 162.72 L423.1 163.81 L423.6 164.99 L424.1 166.27 L424.6 167.75 L425.1 169.35 L425.6 170.99 L426.1 172.67 L426.6 174.33 L427.1 175.93 L427.6 177.27 L428.1 178.43 L428.6 179.54 L429.1 180.71 L429.6 181.9 L430.1 183.06 L430.6 184.14 L431.1 185.16 L431.6 186.13 L432.1 187.03 L432.6 187.88 L433.1 188.69 L433.6 189.47 L434.1 190.22 L434.6 190.95 L435.1 191.64 L435.6 192.3 L436.1 192.94 L436.6 193.54 L437.1 194.11 L437.6 194.62 L438.1 195.09 L438.6 195.58 L439.1 196.11 L439.6 196.71 L440.1 197.34 L440.6 197.99 L441.1 198.63 L441.6 199.25 L442.1 199.88 L442.6 200.5 L443.1 201.13 L443.6 201.77 L444.1 202.41 L444.6 203.04 L445.1 203.61 L445.6 204.13 L446.1 204.62 L446.6 205.11 L447.1 205.6 L447.6 206.09 L448.1 206.59 L448.6 207.09 L449.1 207.61 L449.6 208.16 L450.1 208.73 L450.6 209.28 L451.1 209.8 L451.6 210.3 L452.1 210.78 L452.6 211.21 L453.1 211.56 L453.6 211.87 L454.1 212.14 L454.6 212.39 L455.1 212.62 L455.6 212.84 L456.1 213.04 L456.6 213.23 L457.1 213.42 L457.6 213.59 L458.1 213.75 L458.6 213.89 L459.1 214.03 L459.6 214.14 L460.1 214.26 L460.6 214.36 L461.1 214.46 L461.6 214.55 L462.1 214.64 L462.6 214.73 L463.1 214.82 L463.6 214.9 L464.1 214.98 L464.6 215.06 L465.1 215.14 L465.6 215.21 L466.1 215.29 L466.6 215.36 L467.1 215.44 L467.6 215.51 L468.1 215.59 L468.6 215.67 L469.1 215.76 L469.6 215.85 L470.1 215.94 L470.6 216.03 L471.1 216.12 L471.6 216.21 L472.1 216.3 L472.6 216.39 L473.1 216.47 L473.6 216.54 L474.1 216.62 L474.6 216.68 L475.1 216.74 L475.6 216.79 L476.1 216.84 L476.6 216.9 L477.1 216.95 L477.6 217 L478.1 217.05 L478.6 217.1 L479.1 217.15 L479.6 217.19 L480.1 217.24 L480.6 217.28 L481.1 217.32 L481.6 217.35 L482.1 217.39 L482.6 217.42 L483.1 217.44 L483.6 217.46 L484.1 217.48 L484.6 217.49 L485.1 217.5 L485.6 217.51 L486.1 217.52 L486.6 217.52 L487.1 217.53 L487.6 217.54 L488.1 217.54 L488.6 217.55 L489.1 217.55 L489.6 217.56 L490.1 217.57 L490.6 217.57 L491.1 217.58 L491.6 217.58 L492.1 217.59 L492.6 217.6 L493.1 217.6 L493.6 217.61 L494.1 217.61 L494.6 217.62 L495.1 217.62 L495.6 217.63 L496.1 217.63 L496.6 217.64 L497.1 217.64 L497.6 217.65 L498.1 217.65 L498.6 217.66 L499.1 217.66 L499.6 217.67 L500.1 217.67 L500.6 217.67 L501.1 217.68 L501.6 217.68 L502.1 217.69 L502.6 217.69 L503.1 217.69 L503.6 217.7 L504.1 217.7 L504.6 217.71 L505.1 217.71 L505.6 217.71 L506.1 217.72 L506.6 217.72 L507.1 217.72 L507.6 217.73 L508.1 217.73 L508.6 217.73 L509.1 217.73 L509.6 217.74 L510.1 217.74 L510.6 217.74 L511.1 217.75 L511.6 217.75 L512.1 217.75 L512.6 217.75 L513.1 217.76 L513.6 217.76 L514.1 217.76 L514.6 217.76 L515.1 217.76 L515.6 217.77 L516.1 217.77 L516.6 217.77 L517.1 217.77 L517.6 217.77 L518.1 217.78 L518.6 217.78 L519.1 217.78 L519.6 217.78 L520.1 217.78 L520.6 217.78 L521.1 217.78 L521.6 217.79 L522.1 217.79 L522.6 217.79 L523.1 217.79 L523.6 217.79 L524.1 217.79 L524.6 217.79 L525.1 217.79 L525.6 217.79 L526.1 217.79 L526.6 217.8 L527.1 217.8 L527.6 217.8 L528.1 217.8 L528.6 217.8 L529.1 217.8 L529.6 217.8 L530.1 217.8 L530.6 217.8 L531.1 217.8 L531.6 217.8 L532.1 217.8 L532.6 217.8 L533.1 217.8 L533.6 217.8" fill="none" stroke="#999999" stroke-width="2.3" stroke-linejoin="round" stroke-linecap="butt"/>
<path d="M392.6 199 L393.1 196.06 L393.6 193.54 L394.1 191.39 L394.6 189.47 L395.1 187.64 L395.6 185.93 L396.1 184.31 L396.6 182.66 L397.1 180.89 L397.6 179.17 L398.1 177.75 L398.6 176.67 L399.1 175.75 L399.6 174.83 L400.1 173.75 L400.6 172.2 L401.1 170.54 L401.6 169.56 L402.1 168.85 L402.6 168.24 L403.1 167.61 L403.6 166.82 L404.1 165.8 L404.6 164.73 L405.1 163.84 L405.6 163.07 L406.1 162.36 L406.6 161.8 L407.1 161.45 L407.6 161.2 L408.1 160.97 L408.6 160.77 L409.1 160.61 L409.6 160.49 L410.1 160.42 L410.6 160.4 L411.1 160.45 L411.6 160.56 L412.1 160.71 L412.6 160.9 L413.1 161.11 L413.6 161.32 L414.1 161.54 L414.6 161.8 L415.1 162.09 L415.6 162.43 L416.1 162.79 L416.6 163.18 L417.1 163.58 L417.6 164.01 L418.1 164.48 L418.6 164.98 L419.1 165.53 L419.6 166.12 L420.1 166.8 L420.6 167.56 L421.1 168.36 L421.6 169.16 L422.1 169.98 L422.6 170.83 L423.1 171.67 L423.6 172.52 L424.1 173.36 L424.6 174.15 L425.1 174.87 L425.6 175.54 L426.1 176.21 L426.6 176.9 L427.1 177.66 L427.6 178.51 L428.1 179.42 L428.6 180.32 L429.1 181.16 L429.6 181.95 L430.1 182.7 L430.6 183.43 L431.1 184.14 L431.6 184.82 L432.1 185.47 L432.6 186.13 L433.1 186.81 L433.6 187.48 L434.1 188.13 L434.6 188.76 L435.1 189.38 L435.6 190 L436.1 190.63 L436.6 191.27 L437.1 191.91 L437.6 192.54 L438.1 193.11 L438.6 193.62 L439.1 194.09 L439.6 194.58 L440.1 195.11 L440.6 195.71 L441.1 196.34 L441.6 196.99 L442.1 197.63 L442.6 198.25 L443.1 198.88 L443.6 199.5 L444.1 200.13 L444.6 200.77 L445.1 201.41 L445.6 202.04 L446.1 202.61 L446.6 203.13 L447.1 203.62 L447.6 204.11 L448.1 204.6 L448.6 205.1 L449.1 205.6 L449.6 206.1 L450.1 206.6 L450.6 207.12 L451.1 207.64 L451.6 208.14 L452.1 208.59 L452.6 209 L453.1 209.39 L453.6 209.75 L454.1 210.06 L454.6 210.35 L455.1 210.62 L455.6 210.85 L456.1 211.03 L456.6 211.19 L457.1 211.32 L457.6 211.43 L458.1 211.51 L458.6 211.58 L459.1 211.64 L459.6 211.7 L460.1 211.74 L460.6 211.78 L461.1 211.8 L461.6 211.82 L462.1 211.84 L462.6 211.85 L463.1 211.86 L463.6 211.88 L464.1 211.91 L464.6 211.95 L465.1 212.01 L465.6 212.08 L466.1 212.16 L466.6 212.24 L467.1 212.31 L467.6 212.39 L468.1 212.48 L468.6 212.57 L469.1 212.65 L469.6 212.74 L470.1 212.81 L470.6 212.88 L471.1 212.94 L471.6 213 L472.1 213.07 L472.6 213.14 L473.1 213.22 L473.6 213.32 L474.1 213.43 L474.6 213.56 L475.1 213.69 L475.6 213.81 L476.1 213.92 L476.6 214.02 L477.1 214.12 L477.6 214.21 L478.1 214.3 L478.6 214.39 L479.1 214.49 L479.6 214.6 L480.1 214.73 L480.6 214.89 L481.1 215.08 L481.6 215.29 L482.1 215.51 L482.6 215.72 L483.1 215.91 L483.6 216.06 L484.1 216.17 L484.6 216.25 L485.1 216.32 L485.6 216.39 L486.1 216.45 L486.6 216.5 L487.1 216.55 L487.6 216.59 L488.1 216.62 L488.6 216.64 L489.1 216.66 L489.6 216.68 L490.1 216.7 L490.6 216.71 L491.1 216.73 L491.6 216.74 L492.1 216.75 L492.6 216.77 L493.1 216.78 L493.6 216.79 L494.1 216.81 L494.6 216.83 L495.1 216.84 L495.6 216.86 L496.1 216.89 L496.6 216.91 L497.1 216.94 L497.6 216.97 L498.1 217 L498.6 217.03 L499.1 217.06 L499.6 217.08 L500.1 217.11 L500.6 217.14 L501.1 217.17 L501.6 217.19 L502.1 217.22 L502.6 217.24 L503.1 217.26 L503.6 217.27 L504.1 217.29 L504.6 217.3 L505.1 217.3 L505.6 217.3 L506.1 217.31 L506.6 217.31 L507.1 217.32 L507.6 217.32 L508.1 217.32 L508.6 217.33 L509.1 217.33 L509.6 217.33 L510.1 217.33 L510.6 217.34 L511.1 217.34 L511.6 217.34 L512.1 217.35 L512.6 217.35 L513.1 217.35 L513.6 217.35 L514.1 217.36 L514.6 217.36 L515.1 217.36 L515.6 217.36 L516.1 217.36 L516.6 217.37 L517.1 217.37 L517.6 217.37 L518.1 217.37 L518.6 217.37 L519.1 217.38 L519.6 217.38 L520.1 217.38 L520.6 217.38 L521.1 217.38 L521.6 217.38 L522.1 217.39 L522.6 217.39 L523.1 217.39 L523.6 217.39 L524.1 217.39 L524.6 217.39 L525.1 217.39 L525.6 217.39 L526.1 217.39 L526.6 217.39 L527.1 217.4 L527.6 217.4 L528.1 217.4 L528.6 217.4 L529.1 217.4 L529.6 217.4 L530.1 217.4 L530.6 217.4 L531.1 217.4 L531.6 217.4 L532.1 217.4 L532.6 217.4 L533.1 217.4 L533.6 217.4 L533.6 217.9 L392.6 217.9 Z" fill="#E69F00" fill-opacity="0.2" stroke="none"/>
<path d="M392.6 199 L393.1 196.06 L393.6 193.54 L394.1 191.39 L394.6 189.47 L395.1 187.64 L395.6 185.93 L396.1 184.31 L396.6 182.66 L397.1 180.89 L397.6 179.17 L398.1 177.75 L398.6 176.67 L399.1 175.75 L399.6 174.83 L400.1 173.75 L400.6 172.2 L401.1 170.54 L401.6 169.56 L402.1 168.85 L402.6 168.24 L403.1 167.61 L403.6 166.82 L404.1 165.8 L404.6 164.73 L405.1 163.84 L405.6 163.07 L406.1 162.36 L406.6 161.8 L407.1 161.45 L407.6 161.2 L408.1 160.97 L408.6 160.77 L409.1 160.61 L409.6 160.49 L410.1 160.42 L410.6 160.4 L411.1 160.45 L411.6 160.56 L412.1 160.71 L412.6 160.9 L413.1 161.11 L413.6 161.32 L414.1 161.54 L414.6 161.8 L415.1 162.09 L415.6 162.43 L416.1 162.79 L416.6 163.18 L417.1 163.58 L417.6 164.01 L418.1 164.48 L418.6 164.98 L419.1 165.53 L419.6 166.12 L420.1 166.8 L420.6 167.56 L421.1 168.36 L421.6 169.16 L422.1 169.98 L422.6 170.83 L423.1 171.67 L423.6 172.52 L424.1 173.36 L424.6 174.15 L425.1 174.87 L425.6 175.54 L426.1 176.21 L426.6 176.9 L427.1 177.66 L427.6 178.51 L428.1 179.42 L428.6 180.32 L429.1 181.16 L429.6 181.95 L430.1 182.7 L430.6 183.43 L431.1 184.14 L431.6 184.82 L432.1 185.47 L432.6 186.13 L433.1 186.81 L433.6 187.48 L434.1 188.13 L434.6 188.76 L435.1 189.38 L435.6 190 L436.1 190.63 L436.6 191.27 L437.1 191.91 L437.6 192.54 L438.1 193.11 L438.6 193.62 L439.1 194.09 L439.6 194.58 L440.1 195.11 L440.6 195.71 L441.1 196.34 L441.6 196.99 L442.1 197.63 L442.6 198.25 L443.1 198.88 L443.6 199.5 L444.1 200.13 L444.6 200.77 L445.1 201.41 L445.6 202.04 L446.1 202.61 L446.6 203.13 L447.1 203.62 L447.6 204.11 L448.1 204.6 L448.6 205.1 L449.1 205.6 L449.6 206.1 L450.1 206.6 L450.6 207.12 L451.1 207.64 L451.6 208.14 L452.1 208.59 L452.6 209 L453.1 209.39 L453.6 209.75 L454.1 210.06 L454.6 210.35 L455.1 210.62 L455.6 210.85 L456.1 211.03 L456.6 211.19 L457.1 211.32 L457.6 211.43 L458.1 211.51 L458.6 211.58 L459.1 211.64 L459.6 211.7 L460.1 211.74 L460.6 211.78 L461.1 211.8 L461.6 211.82 L462.1 211.84 L462.6 211.85 L463.1 211.86 L463.6 211.88 L464.1 211.91 L464.6 211.95 L465.1 212.01 L465.6 212.08 L466.1 212.16 L466.6 212.24 L467.1 212.31 L467.6 212.39 L468.1 212.48 L468.6 212.57 L469.1 212.65 L469.6 212.74 L470.1 212.81 L470.6 212.88 L471.1 212.94 L471.6 213 L472.1 213.07 L472.6 213.14 L473.1 213.22 L473.6 213.32 L474.1 213.43 L474.6 213.56 L475.1 213.69 L475.6 213.81 L476.1 213.92 L476.6 214.02 L477.1 214.12 L477.6 214.21 L478.1 214.3 L478.6 214.39 L479.1 214.49 L479.6 214.6 L480.1 214.73 L480.6 214.89 L481.1 215.08 L481.6 215.29 L482.1 215.51 L482.6 215.72 L483.1 215.91 L483.6 216.06 L484.1 216.17 L484.6 216.25 L485.1 216.32 L485.6 216.39 L486.1 216.45 L486.6 216.5 L487.1 216.55 L487.6 216.59 L488.1 216.62 L488.6 216.64 L489.1 216.66 L489.6 216.68 L490.1 216.7 L490.6 216.71 L491.1 216.73 L491.6 216.74 L492.1 216.75 L492.6 216.77 L493.1 216.78 L493.6 216.79 L494.1 216.81 L494.6 216.83 L495.1 216.84 L495.6 216.86 L496.1 216.89 L496.6 216.91 L497.1 216.94 L497.6 216.97 L498.1 217 L498.6 217.03 L499.1 217.06 L499.6 217.08 L500.1 217.11 L500.6 217.14 L501.1 217.17 L501.6 217.19 L502.1 217.22 L502.6 217.24 L503.1 217.26 L503.6 217.27 L504.1 217.29 L504.6 217.3 L505.1 217.3 L505.6 217.3 L506.1 217.31 L506.6 217.31 L507.1 217.32 L507.6 217.32 L508.1 217.32 L508.6 217.33 L509.1 217.33 L509.6 217.33 L510.1 217.33 L510.6 217.34 L511.1 217.34 L511.6 217.34 L512.1 217.35 L512.6 217.35 L513.1 217.35 L513.6 217.35 L514.1 217.36 L514.6 217.36 L515.1 217.36 L515.6 217.36 L516.1 217.36 L516.6 217.37 L517.1 217.37 L517.6 217.37 L518.1 217.37 L518.6 217.37 L519.1 217.38 L519.6 217.38 L520.1 217.38 L520.6 217.38 L521.1 217.38 L521.6 217.38 L522.1 217.39 L522.6 217.39 L523.1 217.39 L523.6 217.39 L524.1 217.39 L524.6 217.39 L525.1 217.39 L525.6 217.39 L526.1 217.39 L526.6 217.39 L527.1 217.4 L527.6 217.4 L528.1 217.4 L528.6 217.4 L529.1 217.4 L529.6 217.4 L530.1 217.4 L530.6 217.4 L531.1 217.4 L531.6 217.4 L532.1 217.4 L532.6 217.4 L533.1 217.4 L533.6 217.4" fill="none" stroke="#E69F00" stroke-width="2.3" stroke-linejoin="round" stroke-linecap="butt"/>
<path d="M392.6 166 L393.1 164.44 L393.6 163.6 L394.1 163.2 L394.6 163.01 L395.1 163.02 L395.6 163.11 L396.1 163.23 L396.6 163.48 L397.1 163.84 L397.6 164.27 L398.1 164.81 L398.6 165.45 L399.1 166.14 L399.6 166.94 L400.1 167.83 L400.6 168.76 L401.1 169.68 L401.6 170.64 L402.1 171.62 L402.6 172.58 L403.1 173.47 L403.6 174.33 L404.1 175.14 L404.6 175.92 L405.1 176.64 L405.6 177.33 L406.1 177.99 L406.6 178.59 L407.1 179.09 L407.6 179.51 L408.1 179.88 L408.6 180.23 L409.1 180.57 L409.6 180.91 L410.1 181.23 L410.6 181.55 L411.1 181.86 L411.6 182.16 L412.1 182.45 L412.6 182.74 L413.1 183.07 L413.6 183.42 L414.1 183.79 L414.6 184.18 L415.1 184.58 L415.6 185.02 L416.1 185.48 L416.6 185.94 L417.1 186.39 L417.6 186.81 L418.1 187.23 L418.6 187.66 L419.1 188.09 L419.6 188.54 L420.1 189.01 L420.6 189.46 L421.1 189.88 L421.6 190.29 L422.1 190.68 L422.6 191.04 L423.1 191.36 L423.6 191.63 L424.1 191.88 L424.6 192.11 L425.1 192.35 L425.6 192.59 L426.1 192.84 L426.6 193.08 L427.1 193.32 L427.6 193.54 L428.1 193.74 L428.6 193.92 L429.1 194.1 L429.6 194.26 L430.1 194.42 L430.6 194.57 L431.1 194.73 L431.6 194.89 L432.1 195.05 L432.6 195.2 L433.1 195.35 L433.6 195.49 L434.1 195.63 L434.6 195.75 L435.1 195.87 L435.6 195.98 L436.1 196.1 L436.6 196.21 L437.1 196.32 L437.6 196.44 L438.1 196.55 L438.6 196.66 L439.1 196.77 L439.6 196.89 L440.1 197.03 L440.6 197.17 L441.1 197.33 L441.6 197.5 L442.1 197.67 L442.6 197.85 L443.1 198.04 L443.6 198.23 L444.1 198.44 L444.6 198.65 L445.1 198.87 L445.6 199.11 L446.1 199.35 L446.6 199.61 L447.1 199.88 L447.6 200.16 L448.1 200.46 L448.6 200.76 L449.1 201.06 L449.6 201.38 L450.1 201.71 L450.6 202.05 L451.1 202.39 L451.6 202.73 L452.1 203.07 L452.6 203.4 L453.1 203.73 L453.6 204.07 L454.1 204.4 L454.6 204.73 L455.1 205.07 L455.6 205.4 L456.1 205.73 L456.6 206.07 L457.1 206.4 L457.6 206.73 L458.1 207.07 L458.6 207.4 L459.1 207.73 L459.6 208.07 L460.1 208.4 L460.6 208.73 L461.1 209.07 L461.6 209.4 L462.1 209.74 L462.6 210.08 L463.1 210.42 L463.6 210.74 L464.1 211.06 L464.6 211.38 L465.1 211.69 L465.6 211.99 L466.1 212.29 L466.6 212.58 L467.1 212.85 L467.6 213.12 L468.1 213.37 L468.6 213.62 L469.1 213.87 L469.6 214.11 L470.1 214.35 L470.6 214.59 L471.1 214.84 L471.6 215.09 L472.1 215.32 L472.6 215.53 L473.1 215.73 L473.6 215.91 L474.1 216.08 L474.6 216.25 L475.1 216.39 L475.6 216.52 L476.1 216.63 L476.6 216.73 L477.1 216.83 L477.6 216.93 L478.1 217.01 L478.6 217.09 L479.1 217.14 L479.6 217.18 L480.1 217.18 L480.6 217.18 L481.1 217.16 L481.6 217.13 L482.1 217.1 L482.6 217.06 L483.1 217.02 L483.6 216.98 L484.1 216.95 L484.6 216.91 L485.1 216.86 L485.6 216.81 L486.1 216.76 L486.6 216.71 L487.1 216.67 L487.6 216.63 L488.1 216.61 L488.6 216.58 L489.1 216.56 L489.6 216.54 L490.1 216.53 L490.6 216.51 L491.1 216.5 L491.6 216.5 L492.1 216.5 L492.6 216.51 L493.1 216.54 L493.6 216.58 L494.1 216.63 L494.6 216.68 L495.1 216.74 L495.6 216.8 L496.1 216.85 L496.6 216.9 L497.1 216.96 L497.6 217.02 L498.1 217.08 L498.6 217.14 L499.1 217.2 L499.6 217.26 L500.1 217.31 L500.6 217.37 L501.1 217.43 L501.6 217.5 L502.1 217.57 L502.6 217.63 L503.1 217.69 L503.6 217.73 L504.1 217.77 L504.6 217.79 L505.1 217.8 L505.6 217.8 L506.1 217.8 L506.6 217.8 L507.1 217.8 L507.6 217.8 L508.1 217.8 L508.6 217.8 L509.1 217.8 L509.6 217.8 L510.1 217.8 L510.6 217.8 L511.1 217.8 L511.6 217.8 L512.1 217.8 L512.6 217.8 L513.1 217.8 L513.6 217.8 L514.1 217.8 L514.6 217.8 L515.1 217.8 L515.6 217.8 L516.1 217.8 L516.6 217.8 L517.1 217.8 L517.6 217.8 L518.1 217.8 L518.6 217.8 L519.1 217.8 L519.6 217.8 L520.1 217.8 L520.6 217.8 L521.1 217.8 L521.6 217.8 L522.1 217.8 L522.6 217.8 L523.1 217.8 L523.6 217.8 L524.1 217.8 L524.6 217.8 L525.1 217.8 L525.6 217.8 L526.1 217.8 L526.6 217.8 L527.1 217.8 L527.6 217.8 L528.1 217.8 L528.6 217.8 L529.1 217.8 L529.6 217.8 L530.1 217.8 L530.6 217.8 L531.1 217.8 L531.6 217.8 L532.1 217.8 L532.6 217.8 L533.1 217.8 L533.6 217.8 L533.6 217.9 L392.6 217.9 Z" fill="#009E73" fill-opacity="0.2" stroke="none"/>
<path d="M392.6 166 L393.1 164.44 L393.6 163.6 L394.1 163.2 L394.6 163.01 L395.1 163.02 L395.6 163.11 L396.1 163.23 L396.6 163.48 L397.1 163.84 L397.6 164.27 L398.1 164.81 L398.6 165.45 L399.1 166.14 L399.6 166.94 L400.1 167.83 L400.6 168.76 L401.1 169.68 L401.6 170.64 L402.1 171.62 L402.6 172.58 L403.1 173.47 L403.6 174.33 L404.1 175.14 L404.6 175.92 L405.1 176.64 L405.6 177.33 L406.1 177.99 L406.6 178.59 L407.1 179.09 L407.6 179.51 L408.1 179.88 L408.6 180.23 L409.1 180.57 L409.6 180.91 L410.1 181.23 L410.6 181.55 L411.1 181.86 L411.6 182.16 L412.1 182.45 L412.6 182.74 L413.1 183.07 L413.6 183.42 L414.1 183.79 L414.6 184.18 L415.1 184.58 L415.6 185.02 L416.1 185.48 L416.6 185.94 L417.1 186.39 L417.6 186.81 L418.1 187.23 L418.6 187.66 L419.1 188.09 L419.6 188.54 L420.1 189.01 L420.6 189.46 L421.1 189.88 L421.6 190.29 L422.1 190.68 L422.6 191.04 L423.1 191.36 L423.6 191.63 L424.1 191.88 L424.6 192.11 L425.1 192.35 L425.6 192.59 L426.1 192.84 L426.6 193.08 L427.1 193.32 L427.6 193.54 L428.1 193.74 L428.6 193.92 L429.1 194.1 L429.6 194.26 L430.1 194.42 L430.6 194.57 L431.1 194.73 L431.6 194.89 L432.1 195.05 L432.6 195.2 L433.1 195.35 L433.6 195.49 L434.1 195.63 L434.6 195.75 L435.1 195.87 L435.6 195.98 L436.1 196.1 L436.6 196.21 L437.1 196.32 L437.6 196.44 L438.1 196.55 L438.6 196.66 L439.1 196.77 L439.6 196.89 L440.1 197.03 L440.6 197.17 L441.1 197.33 L441.6 197.5 L442.1 197.67 L442.6 197.85 L443.1 198.04 L443.6 198.23 L444.1 198.44 L444.6 198.65 L445.1 198.87 L445.6 199.11 L446.1 199.35 L446.6 199.61 L447.1 199.88 L447.6 200.16 L448.1 200.46 L448.6 200.76 L449.1 201.06 L449.6 201.38 L450.1 201.71 L450.6 202.05 L451.1 202.39 L451.6 202.73 L452.1 203.07 L452.6 203.4 L453.1 203.73 L453.6 204.07 L454.1 204.4 L454.6 204.73 L455.1 205.07 L455.6 205.4 L456.1 205.73 L456.6 206.07 L457.1 206.4 L457.6 206.73 L458.1 207.07 L458.6 207.4 L459.1 207.73 L459.6 208.07 L460.1 208.4 L460.6 208.73 L461.1 209.07 L461.6 209.4 L462.1 209.74 L462.6 210.08 L463.1 210.42 L463.6 210.74 L464.1 211.06 L464.6 211.38 L465.1 211.69 L465.6 211.99 L466.1 212.29 L466.6 212.58 L467.1 212.85 L467.6 213.12 L468.1 213.37 L468.6 213.62 L469.1 213.87 L469.6 214.11 L470.1 214.35 L470.6 214.59 L471.1 214.84 L471.6 215.09 L472.1 215.32 L472.6 215.53 L473.1 215.73 L473.6 215.91 L474.1 216.08 L474.6 216.25 L475.1 216.39 L475.6 216.52 L476.1 216.63 L476.6 216.73 L477.1 216.83 L477.6 216.93 L478.1 217.01 L478.6 217.09 L479.1 217.14 L479.6 217.18 L480.1 217.18 L480.6 217.18 L481.1 217.16 L481.6 217.13 L482.1 217.1 L482.6 217.06 L483.1 217.02 L483.6 216.98 L484.1 216.95 L484.6 216.91 L485.1 216.86 L485.6 216.81 L486.1 216.76 L486.6 216.71 L487.1 216.67 L487.6 216.63 L488.1 216.61 L488.6 216.58 L489.1 216.56 L489.6 216.54 L490.1 216.53 L490.6 216.51 L491.1 216.5 L491.6 216.5 L492.1 216.5 L492.6 216.51 L493.1 216.54 L493.6 216.58 L494.1 216.63 L494.6 216.68 L495.1 216.74 L495.6 216.8 L496.1 216.85 L496.6 216.9 L497.1 216.96 L497.6 217.02 L498.1 217.08 L498.6 217.14 L499.1 217.2 L499.6 217.26 L500.1 217.31 L500.6 217.37 L501.1 217.43 L501.6 217.5 L502.1 217.57 L502.6 217.63 L503.1 217.69 L503.6 217.73 L504.1 217.77 L504.6 217.79 L505.1 217.8 L505.6 217.8 L506.1 217.8 L506.6 217.8 L507.1 217.8 L507.6 217.8 L508.1 217.8 L508.6 217.8 L509.1 217.8 L509.6 217.8 L510.1 217.8 L510.6 217.8 L511.1 217.8 L511.6 217.8 L512.1 217.8 L512.6 217.8 L513.1 217.8 L513.6 217.8 L514.1 217.8 L514.6 217.8 L515.1 217.8 L515.6 217.8 L516.1 217.8 L516.6 217.8 L517.1 217.8 L517.6 217.8 L518.1 217.8 L518.6 217.8 L519.1 217.8 L519.6 217.8 L520.1 217.8 L520.6 217.8 L521.1 217.8 L521.6 217.8 L522.1 217.8 L522.6 217.8 L523.1 217.8 L523.6 217.8 L524.1 217.8 L524.6 217.8 L525.1 217.8 L525.6 217.8 L526.1 217.8 L526.6 217.8 L527.1 217.8 L527.6 217.8 L528.1 217.8 L528.6 217.8 L529.1 217.8 L529.6 217.8 L530.1 217.8 L530.6 217.8 L531.1 217.8 L531.6 217.8 L532.1 217.8 L532.6 217.8 L533.1 217.8 L533.6 217.8" fill="none" stroke="#009E73" stroke-width="2.3" stroke-linejoin="round" stroke-linecap="butt"/>
<path d="M392.6 161 L393.1 157.28 L393.6 154.55 L394.1 152.54 L394.6 150.95 L395.1 149.8 L395.6 148.89 L396.1 148.16 L396.6 147.67 L397.1 147.37 L397.6 147.14 L398.1 147.01 L398.6 147.07 L399.1 147.43 L399.6 148 L400.1 148.63 L400.6 149.54 L401.1 150.72 L401.6 152.01 L402.1 153.24 L402.6 154.48 L403.1 155.76 L403.6 157.03 L404.1 158.24 L404.6 159.42 L405.1 160.58 L405.6 161.68 L406.1 162.69 L406.6 163.61 L407.1 164.47 L407.6 165.31 L408.1 166.18 L408.6 167.05 L409.1 167.93 L409.6 168.8 L410.1 169.68 L410.6 170.55 L411.1 171.43 L411.6 172.3 L412.1 173.18 L412.6 174.09 L413.1 175.02 L413.6 175.88 L414.1 176.64 L414.6 177.3 L415.1 177.89 L415.6 178.45 L416.1 179 L416.6 179.54 L417.1 180.12 L417.6 180.7 L418.1 181.28 L418.6 181.87 L419.1 182.45 L419.6 183.03 L420.1 183.62 L420.6 184.2 L421.1 184.78 L421.6 185.37 L422.1 185.95 L422.6 186.53 L423.1 187.12 L423.6 187.71 L424.1 188.31 L424.6 188.9 L425.1 189.49 L425.6 190.06 L426.1 190.61 L426.6 191.13 L427.1 191.63 L427.6 192.13 L428.1 192.61 L428.6 193.1 L429.1 193.6 L429.6 194.11 L430.1 194.62 L430.6 195.14 L431.1 195.64 L431.6 196.13 L432.1 196.59 L432.6 197.03 L433.1 197.46 L433.6 197.87 L434.1 198.28 L434.6 198.68 L435.1 199.08 L435.6 199.46 L436.1 199.83 L436.6 200.19 L437.1 200.57 L437.6 200.96 L438.1 201.39 L438.6 201.87 L439.1 202.39 L439.6 202.9 L440.1 203.39 L440.6 203.86 L441.1 204.32 L441.6 204.77 L442.1 205.21 L442.6 205.65 L443.1 206.09 L443.6 206.51 L444.1 206.93 L444.6 207.34 L445.1 207.76 L445.6 208.17 L446.1 208.58 L446.6 209.01 L447.1 209.44 L447.6 209.87 L448.1 210.29 L448.6 210.69 L449.1 211.07 L449.6 211.44 L450.1 211.8 L450.6 212.15 L451.1 212.48 L451.6 212.78 L452.1 213.05 L452.6 213.32 L453.1 213.59 L453.6 213.83 L454.1 214.05 L454.6 214.21 L455.1 214.32 L455.6 214.39 L456.1 214.46 L456.6 214.52 L457.1 214.57 L457.6 214.59 L458.1 214.6 L458.6 214.56 L459.1 214.48 L459.6 214.37 L460.1 214.26 L460.6 214.16 L461.1 214.09 L461.6 214.02 L462.1 213.95 L462.6 213.89 L463.1 213.84 L463.6 213.81 L464.1 213.8 L464.6 213.81 L465.1 213.83 L465.6 213.87 L466.1 213.91 L466.6 213.96 L467.1 214.01 L467.6 214.1 L468.1 214.23 L468.6 214.39 L469.1 214.57 L469.6 214.76 L470.1 214.94 L470.6 215.14 L471.1 215.37 L471.6 215.6 L472.1 215.83 L472.6 216.03 L473.1 216.18 L473.6 216.29 L474.1 216.4 L474.6 216.49 L475.1 216.58 L475.6 216.66 L476.1 216.74 L476.6 216.83 L477.1 216.93 L477.6 217.02 L478.1 217.11 L478.6 217.19 L479.1 217.25 L479.6 217.29 L480.1 217.3 L480.6 217.28 L481.1 217.24 L481.6 217.18 L482.1 217.11 L482.6 217.04 L483.1 216.96 L483.6 216.89 L484.1 216.83 L484.6 216.77 L485.1 216.71 L485.6 216.64 L486.1 216.58 L486.6 216.52 L487.1 216.46 L487.6 216.41 L488.1 216.37 L488.6 216.33 L489.1 216.29 L489.6 216.25 L490.1 216.22 L490.6 216.19 L491.1 216.17 L491.6 216.15 L492.1 216.15 L492.6 216.17 L493.1 216.23 L493.6 216.3 L494.1 216.38 L494.6 216.48 L495.1 216.57 L495.6 216.66 L496.1 216.74 L496.6 216.81 L497.1 216.89 L497.6 216.96 L498.1 217.04 L498.6 217.11 L499.1 217.18 L499.6 217.25 L500.1 217.31 L500.6 217.38 L501.1 217.44 L501.6 217.51 L502.1 217.57 L502.6 217.64 L503.1 217.69 L503.6 217.74 L504.1 217.77 L504.6 217.79 L505.1 217.8 L505.6 217.8 L506.1 217.8 L506.6 217.8 L507.1 217.8 L507.6 217.8 L508.1 217.8 L508.6 217.8 L509.1 217.8 L509.6 217.8 L510.1 217.8 L510.6 217.8 L511.1 217.8 L511.6 217.8 L512.1 217.8 L512.6 217.8 L513.1 217.8 L513.6 217.8 L514.1 217.8 L514.6 217.8 L515.1 217.8 L515.6 217.8 L516.1 217.8 L516.6 217.8 L517.1 217.8 L517.6 217.8 L518.1 217.8 L518.6 217.8 L519.1 217.8 L519.6 217.8 L520.1 217.8 L520.6 217.8 L521.1 217.8 L521.6 217.8 L522.1 217.8 L522.6 217.8 L523.1 217.8 L523.6 217.8 L524.1 217.8 L524.6 217.8 L525.1 217.8 L525.6 217.8 L526.1 217.8 L526.6 217.8 L527.1 217.8 L527.6 217.8 L528.1 217.8 L528.6 217.8 L529.1 217.8 L529.6 217.8 L530.1 217.8 L530.6 217.8 L531.1 217.8 L531.6 217.8 L532.1 217.8 L532.6 217.8 L533.1 217.8 L533.6 217.8 L533.6 217.9 L392.6 217.9 Z" fill="#0072B2" fill-opacity="0.2" stroke="none"/>
<path d="M392.6 161 L393.1 157.28 L393.6 154.55 L394.1 152.54 L394.6 150.95 L395.1 149.8 L395.6 148.89 L396.1 148.16 L396.6 147.67 L397.1 147.37 L397.6 147.14 L398.1 147.01 L398.6 147.07 L399.1 147.43 L399.6 148 L400.1 148.63 L400.6 149.54 L401.1 150.72 L401.6 152.01 L402.1 153.24 L402.6 154.48 L403.1 155.76 L403.6 157.03 L404.1 158.24 L404.6 159.42 L405.1 160.58 L405.6 161.68 L406.1 162.69 L406.6 163.61 L407.1 164.47 L407.6 165.31 L408.1 166.18 L408.6 167.05 L409.1 167.93 L409.6 168.8 L410.1 169.68 L410.6 170.55 L411.1 171.43 L411.6 172.3 L412.1 173.18 L412.6 174.09 L413.1 175.02 L413.6 175.88 L414.1 176.64 L414.6 177.3 L415.1 177.89 L415.6 178.45 L416.1 179 L416.6 179.54 L417.1 180.12 L417.6 180.7 L418.1 181.28 L418.6 181.87 L419.1 182.45 L419.6 183.03 L420.1 183.62 L420.6 184.2 L421.1 184.78 L421.6 185.37 L422.1 185.95 L422.6 186.53 L423.1 187.12 L423.6 187.71 L424.1 188.31 L424.6 188.9 L425.1 189.49 L425.6 190.06 L426.1 190.61 L426.6 191.13 L427.1 191.63 L427.6 192.13 L428.1 192.61 L428.6 193.1 L429.1 193.6 L429.6 194.11 L430.1 194.62 L430.6 195.14 L431.1 195.64 L431.6 196.13 L432.1 196.59 L432.6 197.03 L433.1 197.46 L433.6 197.87 L434.1 198.28 L434.6 198.68 L435.1 199.08 L435.6 199.46 L436.1 199.83 L436.6 200.19 L437.1 200.57 L437.6 200.96 L438.1 201.39 L438.6 201.87 L439.1 202.39 L439.6 202.9 L440.1 203.39 L440.6 203.86 L441.1 204.32 L441.6 204.77 L442.1 205.21 L442.6 205.65 L443.1 206.09 L443.6 206.51 L444.1 206.93 L444.6 207.34 L445.1 207.76 L445.6 208.17 L446.1 208.58 L446.6 209.01 L447.1 209.44 L447.6 209.87 L448.1 210.29 L448.6 210.69 L449.1 211.07 L449.6 211.44 L450.1 211.8 L450.6 212.15 L451.1 212.48 L451.6 212.78 L452.1 213.05 L452.6 213.32 L453.1 213.59 L453.6 213.83 L454.1 214.05 L454.6 214.21 L455.1 214.32 L455.6 214.39 L456.1 214.46 L456.6 214.52 L457.1 214.57 L457.6 214.59 L458.1 214.6 L458.6 214.56 L459.1 214.48 L459.6 214.37 L460.1 214.26 L460.6 214.16 L461.1 214.09 L461.6 214.02 L462.1 213.95 L462.6 213.89 L463.1 213.84 L463.6 213.81 L464.1 213.8 L464.6 213.81 L465.1 213.83 L465.6 213.87 L466.1 213.91 L466.6 213.96 L467.1 214.01 L467.6 214.1 L468.1 214.23 L468.6 214.39 L469.1 214.57 L469.6 214.76 L470.1 214.94 L470.6 215.14 L471.1 215.37 L471.6 215.6 L472.1 215.83 L472.6 216.03 L473.1 216.18 L473.6 216.29 L474.1 216.4 L474.6 216.49 L475.1 216.58 L475.6 216.66 L476.1 216.74 L476.6 216.83 L477.1 216.93 L477.6 217.02 L478.1 217.11 L478.6 217.19 L479.1 217.25 L479.6 217.29 L480.1 217.3 L480.6 217.28 L481.1 217.24 L481.6 217.18 L482.1 217.11 L482.6 217.04 L483.1 216.96 L483.6 216.89 L484.1 216.83 L484.6 216.77 L485.1 216.71 L485.6 216.64 L486.1 216.58 L486.6 216.52 L487.1 216.46 L487.6 216.41 L488.1 216.37 L488.6 216.33 L489.1 216.29 L489.6 216.25 L490.1 216.22 L490.6 216.19 L491.1 216.17 L491.6 216.15 L492.1 216.15 L492.6 216.17 L493.1 216.23 L493.6 216.3 L494.1 216.38 L494.6 216.48 L495.1 216.57 L495.6 216.66 L496.1 216.74 L496.6 216.81 L497.1 216.89 L497.6 216.96 L498.1 217.04 L498.6 217.11 L499.1 217.18 L499.6 217.25 L500.1 217.31 L500.6 217.38 L501.1 217.44 L501.6 217.51 L502.1 217.57 L502.6 217.64 L503.1 217.69 L503.6 217.74 L504.1 217.77 L504.6 217.79 L505.1 217.8 L505.6 217.8 L506.1 217.8 L506.6 217.8 L507.1 217.8 L507.6 217.8 L508.1 217.8 L508.6 217.8 L509.1 217.8 L509.6 217.8 L510.1 217.8 L510.6 217.8 L511.1 217.8 L511.6 217.8 L512.1 217.8 L512.6 217.8 L513.1 217.8 L513.6 217.8 L514.1 217.8 L514.6 217.8 L515.1 217.8 L515.6 217.8 L516.1 217.8 L516.6 217.8 L517.1 217.8 L517.6 217.8 L518.1 217.8 L518.6 217.8 L519.1 217.8 L519.6 217.8 L520.1 217.8 L520.6 217.8 L521.1 217.8 L521.6 217.8 L522.1 217.8 L522.6 217.8 L523.1 217.8 L523.6 217.8 L524.1 217.8 L524.6 217.8 L525.1 217.8 L525.6 217.8 L526.1 217.8 L526.6 217.8 L527.1 217.8 L527.6 217.8 L528.1 217.8 L528.6 217.8 L529.1 217.8 L529.6 217.8 L530.1 217.8 L530.6 217.8 L531.1 217.8 L531.6 217.8 L532.1 217.8 L532.6 217.8 L533.1 217.8 L533.6 217.8" fill="none" stroke="#0072B2" stroke-width="2.3" stroke-linejoin="round" stroke-linecap="butt"/>
<rect x="385.8" y="43.6" width="153.8" height="182.1" fill="none" stroke="#333" stroke-width="1.1"/>
<g stroke="#333" stroke-width="1.1"><line x1="392.6" x2="392.6" y1="225.7" y2="231.7"/><line x1="425.87" x2="425.87" y1="225.7" y2="231.7"/><line x1="459.14" x2="459.14" y1="225.7" y2="231.7"/><line x1="492.41" x2="492.41" y1="225.7" y2="231.7"/><line x1="525.68" x2="525.68" y1="225.7" y2="231.7"/></g>
<g class="tk"><text x="392.6" y="250.7" text-anchor="middle" textLength="19" lengthAdjust="spacingAndGlyphs">0.0</text><text x="425.87" y="250.7" text-anchor="middle" textLength="19" lengthAdjust="spacingAndGlyphs">0.2</text><text x="459.14" y="250.7" text-anchor="middle" textLength="19" lengthAdjust="spacingAndGlyphs">0.4</text><text x="492.41" y="250.7" text-anchor="middle" textLength="19" lengthAdjust="spacingAndGlyphs">0.6</text><text x="525.68" y="250.7" text-anchor="middle" textLength="19" lengthAdjust="spacingAndGlyphs">0.8</text></g>
<g stroke="#333" stroke-width="1.1"><line x1="46.3" x2="52.6" y1="217.9" y2="217.9"/><line x1="46.3" x2="52.6" y1="172.33" y2="172.33"/><line x1="46.3" x2="52.6" y1="126.76" y2="126.76"/><line x1="46.3" x2="52.6" y1="81.19" y2="81.19"/></g>
<g class="tk"><text x="41.4" y="224.5" text-anchor="end" style="font-size:15.5px">0</text><text x="41.4" y="178.93" text-anchor="end" style="font-size:15.5px">3</text><text x="41.4" y="133.36" text-anchor="end" style="font-size:15.5px">6</text><text x="41.4" y="87.79" text-anchor="end" style="font-size:15.5px">9</text></g>
<text class="st" x="129.3" y="32" text-anchor="middle" textLength="67.3" lengthAdjust="spacingAndGlyphs">Breathing</text>
<text class="st" x="295.8" y="32" text-anchor="middle" textLength="48" lengthAdjust="spacingAndGlyphs">Cough</text>
<text class="st" x="462.2" y="32" text-anchor="middle" textLength="49.6" lengthAdjust="spacingAndGlyphs">Speech</text>
<text class="ti" x="296.6" y="277.5" text-anchor="middle" textLength="219.6" lengthAdjust="spacingAndGlyphs">Average probability score</text>
<text class="ti" transform="translate(21.2 134.4) rotate(-90)" text-anchor="middle" textLength="65.8" lengthAdjust="spacingAndGlyphs">Density</text>
<rect x="52.95" y="308.65" width="26.7" height="26.9" fill="#fff"/>
<rect x="52.95" y="308.65" width="26.7" height="26.9" fill="#999999" fill-opacity="0.2" stroke="#999999" stroke-width="2.1"/>
<text class="lg" x="83.7" y="328.75" textLength="109.9" lengthAdjust="spacingAndGlyphs">DiCOVA (blind)</text>
<rect x="225.85" y="308.65" width="26.7" height="26.9" fill="#fff"/>
<rect x="225.85" y="308.65" width="26.7" height="26.9" fill="#E69F00" fill-opacity="0.2" stroke="#E69F00" stroke-width="2.1"/>
<text class="lg" x="256.8" y="328.75" textLength="144.7" lengthAdjust="spacingAndGlyphs">DiCOVA (validation)</text>
<rect x="439.45" y="308.65" width="26.7" height="26.9" fill="#fff"/>
<rect x="439.45" y="308.65" width="26.7" height="26.9" fill="#56B4E9" fill-opacity="0.2" stroke="#56B4E9" stroke-width="2.1"/>
<text class="lg" x="469.2" y="328.75" textLength="59.6" lengthAdjust="spacingAndGlyphs">NeurIPS</text>
<rect x="52.95" y="353.05" width="26.7" height="26.9" fill="#fff"/>
<rect x="52.95" y="353.05" width="26.7" height="26.9" fill="#009E73" fill-opacity="0.2" stroke="#009E73" stroke-width="2.1"/>
<text class="lg" x="83.7" y="373.15" textLength="88.7" lengthAdjust="spacingAndGlyphs">Repeatability</text>
<rect x="225.85" y="353.05" width="26.7" height="26.9" fill="#fff"/>
<rect x="225.85" y="353.05" width="26.7" height="26.9" fill="#0072B2" fill-opacity="0.2" stroke="#0072B2" stroke-width="2.1"/>
<text class="lg" x="255.6" y="373.15" textLength="87.7" lengthAdjust="spacingAndGlyphs">Social Media</text>
</svg>
</body></html>
